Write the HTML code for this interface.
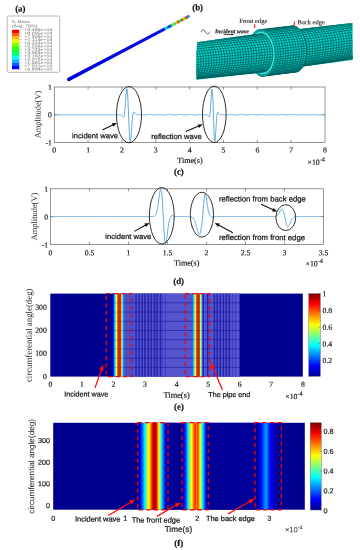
<!DOCTYPE html>
<html><head><meta charset="utf-8"><title>Figure</title>
<style>html,body{margin:0;padding:0;background:#fff}svg{display:block}</style></head>
<body>
<svg width="360" height="550" viewBox="0 0 360 550" text-rendering="geometricPrecision">
<defs>
<linearGradient id="jet" x1="0" y1="1" x2="0" y2="0">
<stop offset="0" stop-color="#00008f"/><stop offset="0.125" stop-color="#0000ff"/><stop offset="0.375" stop-color="#00ffff"/><stop offset="0.625" stop-color="#ffff00"/><stop offset="0.875" stop-color="#ff0000"/><stop offset="1" stop-color="#800000"/>
</linearGradient>
</defs>
<rect width="360" height="550" fill="#fff"/>
<text transform="rotate(0.03 15.2 11.4)" x="15.20" y="11.40" font-size="8.8" font-family="Liberation Serif, serif" text-anchor="start" fill="#111" font-weight="bold" stroke="#111" stroke-width="0.18">(a)</text>
<rect x="7.2" y="16" width="52.6" height="56.3" rx="1.2" fill="#fff" stroke="#9a9a9a" stroke-width="0.7"/>
<text transform="rotate(0.03 11.8 23.1)" x="11.80" y="23.10" font-size="3.9" font-family="Liberation Sans, sans-serif" text-anchor="start" fill="#6a6a6a" textLength="18.2" lengthAdjust="spacingAndGlyphs">S, Mises</text>
<text transform="rotate(0.03 11.8 27.3)" x="11.80" y="27.30" font-size="3.9" font-family="Liberation Sans, sans-serif" text-anchor="start" fill="#6a6a6a" textLength="25.7" lengthAdjust="spacingAndGlyphs">(Avg: 75%)</text>
<rect x="12" y="29.80" width="7.2" height="3.33" fill="#ff0000"/>
<rect x="12" y="33.08" width="7.2" height="3.33" fill="#ff5d00"/>
<rect x="12" y="36.37" width="7.2" height="3.33" fill="#ffb900"/>
<rect x="12" y="39.65" width="7.2" height="3.33" fill="#e8ff00"/>
<rect x="12" y="42.93" width="7.2" height="3.33" fill="#8bff00"/>
<rect x="12" y="46.22" width="7.2" height="3.33" fill="#2eff00"/>
<rect x="12" y="49.50" width="7.2" height="3.33" fill="#00ff2e"/>
<rect x="12" y="52.78" width="7.2" height="3.33" fill="#00ff8b"/>
<rect x="12" y="56.07" width="7.2" height="3.33" fill="#00ffe8"/>
<rect x="12" y="59.35" width="7.2" height="3.33" fill="#00b9ff"/>
<rect x="12" y="62.63" width="7.2" height="3.33" fill="#005dff"/>
<rect x="12" y="65.92" width="7.2" height="3.33" fill="#0000ff"/>
<line x1="19.2" y1="29.80" x2="21.6" y2="29.80" stroke="#666" stroke-width="0.35"/>
<text transform="rotate(0.03 24 29.8)" x="24.2" y="31.10" font-size="3.9" font-family="Liberation Sans, sans-serif" fill="#6e6e6e" textLength="28.3" lengthAdjust="spacingAndGlyphs">+9.485e+04</text>
<line x1="19.2" y1="33.08" x2="21.6" y2="33.08" stroke="#666" stroke-width="0.35"/>
<text transform="rotate(0.03 24 33.1)" x="24.2" y="34.38" font-size="3.9" font-family="Liberation Sans, sans-serif" fill="#6e6e6e" textLength="28.3" lengthAdjust="spacingAndGlyphs">+8.695e+04</text>
<line x1="19.2" y1="36.37" x2="21.6" y2="36.37" stroke="#666" stroke-width="0.35"/>
<text transform="rotate(0.03 24 36.4)" x="24.2" y="37.67" font-size="3.9" font-family="Liberation Sans, sans-serif" fill="#6e6e6e" textLength="28.3" lengthAdjust="spacingAndGlyphs">+7.905e+04</text>
<line x1="19.2" y1="39.65" x2="21.6" y2="39.65" stroke="#666" stroke-width="0.35"/>
<text transform="rotate(0.03 24 39.7)" x="24.2" y="40.95" font-size="3.9" font-family="Liberation Sans, sans-serif" fill="#6e6e6e" textLength="28.3" lengthAdjust="spacingAndGlyphs">+7.114e+04</text>
<line x1="19.2" y1="42.93" x2="21.6" y2="42.93" stroke="#666" stroke-width="0.35"/>
<text transform="rotate(0.03 24 42.9)" x="24.2" y="44.23" font-size="3.9" font-family="Liberation Sans, sans-serif" fill="#6e6e6e" textLength="28.3" lengthAdjust="spacingAndGlyphs">+6.324e+04</text>
<line x1="19.2" y1="46.22" x2="21.6" y2="46.22" stroke="#666" stroke-width="0.35"/>
<text transform="rotate(0.03 24 46.2)" x="24.2" y="47.52" font-size="3.9" font-family="Liberation Sans, sans-serif" fill="#6e6e6e" textLength="28.3" lengthAdjust="spacingAndGlyphs">+5.533e+04</text>
<line x1="19.2" y1="49.50" x2="21.6" y2="49.50" stroke="#666" stroke-width="0.35"/>
<text transform="rotate(0.03 24 49.5)" x="24.2" y="50.80" font-size="3.9" font-family="Liberation Sans, sans-serif" fill="#6e6e6e" textLength="28.3" lengthAdjust="spacingAndGlyphs">+4.743e+04</text>
<line x1="19.2" y1="52.78" x2="21.6" y2="52.78" stroke="#666" stroke-width="0.35"/>
<text transform="rotate(0.03 24 52.8)" x="24.2" y="54.08" font-size="3.9" font-family="Liberation Sans, sans-serif" fill="#6e6e6e" textLength="28.3" lengthAdjust="spacingAndGlyphs">+3.953e+04</text>
<line x1="19.2" y1="56.07" x2="21.6" y2="56.07" stroke="#666" stroke-width="0.35"/>
<text transform="rotate(0.03 24 56.1)" x="24.2" y="57.37" font-size="3.9" font-family="Liberation Sans, sans-serif" fill="#6e6e6e" textLength="28.3" lengthAdjust="spacingAndGlyphs">+3.162e+04</text>
<line x1="19.2" y1="59.35" x2="21.6" y2="59.35" stroke="#666" stroke-width="0.35"/>
<text transform="rotate(0.03 24 59.4)" x="24.2" y="60.65" font-size="3.9" font-family="Liberation Sans, sans-serif" fill="#6e6e6e" textLength="28.3" lengthAdjust="spacingAndGlyphs">+2.372e+04</text>
<line x1="19.2" y1="62.63" x2="21.6" y2="62.63" stroke="#666" stroke-width="0.35"/>
<text transform="rotate(0.03 24 62.6)" x="24.2" y="63.93" font-size="3.9" font-family="Liberation Sans, sans-serif" fill="#6e6e6e" textLength="28.3" lengthAdjust="spacingAndGlyphs">+1.581e+04</text>
<line x1="19.2" y1="65.92" x2="21.6" y2="65.92" stroke="#666" stroke-width="0.35"/>
<text transform="rotate(0.03 24 65.9)" x="24.2" y="67.22" font-size="3.9" font-family="Liberation Sans, sans-serif" fill="#6e6e6e" textLength="28.3" lengthAdjust="spacingAndGlyphs">+7.911e+03</text>
<line x1="19.2" y1="69.20" x2="21.6" y2="69.20" stroke="#666" stroke-width="0.35"/>
<text transform="rotate(0.03 24 69.2)" x="24.2" y="70.50" font-size="3.9" font-family="Liberation Sans, sans-serif" fill="#6e6e6e" textLength="28.3" lengthAdjust="spacingAndGlyphs">+6.894e+00</text>
<linearGradient id="rod" gradientUnits="userSpaceOnUse" x1="67.5" y1="80" x2="189" y2="16">
<stop offset="0" stop-color="#0000d8"/><stop offset="0.795" stop-color="#0010e8"/>
<stop offset="0.805" stop-color="#00d0e0"/><stop offset="0.822" stop-color="#00b0ff"/><stop offset="0.832" stop-color="#0030ff"/>
<stop offset="0.848" stop-color="#0050ff"/><stop offset="0.858" stop-color="#30e060"/><stop offset="0.872" stop-color="#80f000"/>
<stop offset="0.885" stop-color="#20d0a0"/><stop offset="0.895" stop-color="#f0e000"/><stop offset="0.908" stop-color="#ff2000"/>
<stop offset="0.920" stop-color="#40e020"/><stop offset="0.932" stop-color="#20d080"/><stop offset="0.944" stop-color="#ff3000"/>
<stop offset="0.956" stop-color="#f0d000"/><stop offset="0.966" stop-color="#30e040"/><stop offset="0.978" stop-color="#ff2000"/>
<stop offset="0.990" stop-color="#20a0e0"/><stop offset="1" stop-color="#2060ff"/>
</linearGradient>
<path d="M69.62,80.95 L189.05,17.64 A1.40,1.40 0 0 0 187.75,15.16 L67.98,77.85 A1.75,1.75 0 0 0 69.62,80.95 Z" fill="url(#rod)"/>
<text transform="rotate(0.03 192.3 10.2)" x="192.30" y="10.20" font-size="8.8" font-family="Liberation Serif, serif" text-anchor="start" fill="#111" font-weight="bold" stroke="#111" stroke-width="0.18">(b)</text>
<linearGradient id="pg" gradientUnits="userSpaceOnUse" x1="270" y1="25" x2="276" y2="78">
<stop offset="0" stop-color="#00c6be"/><stop offset="0.3" stop-color="#00e0d2"/><stop offset="0.65" stop-color="#00ccc2"/><stop offset="1" stop-color="#00a6a4"/></linearGradient>
<clipPath id="cl"><path d="M197.2,42.2 L260.44,33.45 A11.3,19.5 -4.0 0 1 263.16,72.35 L196.7,79.8 Q195.2,61 197.2,42.2 Z"/></clipPath>
<clipPath id="cc"><path d="M291.96,25.56 A13.30,23.50 -4.0 0 1 295.24,72.44 L263.45,76.54 A13.60,23.70 -4.0 0 1 260.15,29.26 Z"/></clipPath>
<clipPath id="cr"><path d="M292.88,29.85 L352.4,23.1 L352.7,60 L295.52,67.55 Z"/></clipPath>
<path d="M292.88,29.85 L352.4,23.1 L352.7,60 L295.52,67.55 Z" fill="url(#pg)"/>
<g clip-path="url(#cr)" fill="none" stroke="#005a5a" stroke-width="0.7">
<path d="M290.22,30.22 A10.51,18.92 -4.0 0 1 292.86,67.97"/>
<path d="M292.88,29.85 A10.50,18.90 -4.0 0 1 295.52,67.55"/>
<path d="M295.54,29.47 A10.49,18.88 -4.0 0 1 298.17,67.14"/>
<path d="M298.20,29.10 A10.49,18.86 -4.0 0 1 300.83,66.72"/>
<path d="M300.85,28.73 A10.48,18.83 -4.0 0 1 303.48,66.30"/>
<path d="M303.51,28.36 A10.48,18.81 -4.0 0 1 306.13,65.89"/>
<path d="M306.17,27.98 A10.47,18.79 -4.0 0 1 308.79,65.47"/>
<path d="M308.82,27.61 A10.47,18.77 -4.0 0 1 311.44,65.05"/>
<path d="M311.48,27.24 A10.46,18.74 -4.0 0 1 314.10,64.64"/>
<path d="M314.14,26.87 A10.46,18.72 -4.0 0 1 316.75,64.22"/>
<path d="M316.80,26.50 A10.45,18.70 -4.0 0 1 319.40,63.80"/>
<path d="M319.45,26.12 A10.44,18.68 -4.0 0 1 322.06,63.39"/>
<path d="M322.11,25.75 A10.44,18.66 -4.0 0 1 324.71,62.97"/>
<path d="M324.77,25.38 A10.43,18.63 -4.0 0 1 327.37,62.55"/>
<path d="M327.42,25.01 A10.43,18.61 -4.0 0 1 330.02,62.14"/>
<path d="M330.08,24.63 A10.42,18.59 -4.0 0 1 332.67,61.72"/>
<path d="M332.74,24.26 A10.42,18.57 -4.0 0 1 335.33,61.30"/>
<path d="M335.40,23.89 A10.41,18.54 -4.0 0 1 337.98,60.89"/>
<path d="M338.05,23.52 A10.41,18.52 -4.0 0 1 340.64,60.47"/>
<path d="M340.71,23.15 A10.40,18.50 -4.0 0 1 343.29,60.05"/>
<path d="M343.37,22.77 A10.39,18.48 -4.0 0 1 345.94,59.64"/>
<path d="M346.02,22.40 A10.39,18.46 -4.0 0 1 348.60,59.22"/>
<path d="M348.68,22.03 A10.38,18.43 -4.0 0 1 351.25,58.81"/>
<path d="M351.34,21.66 A10.38,18.41 -4.0 0 1 353.91,58.39"/>
<path d="M354.00,21.28 A10.37,18.39 -4.0 0 1 356.56,57.97"/>
<line x1="289.79" y1="30.64" x2="356.73" y2="21.25"/>
<line x1="291.47" y1="31.25" x2="358.38" y2="21.84"/>
<line x1="293.08" y1="32.31" x2="359.97" y2="22.87"/>
<line x1="294.59" y1="33.79" x2="361.46" y2="24.30"/>
<line x1="295.96" y1="35.63" x2="362.81" y2="26.09"/>
<line x1="297.16" y1="37.78" x2="363.99" y2="28.17"/>
<line x1="298.16" y1="40.17" x2="364.97" y2="30.49"/>
<line x1="298.94" y1="42.72" x2="365.74" y2="32.96"/>
<line x1="299.51" y1="45.36" x2="366.30" y2="35.53"/>
<line x1="299.85" y1="48.03" x2="366.64" y2="38.12"/>
<line x1="299.99" y1="50.68" x2="366.76" y2="40.69"/>
<line x1="299.91" y1="53.23" x2="366.69" y2="43.17"/>
<line x1="299.66" y1="55.66" x2="366.43" y2="45.53"/>
<line x1="299.23" y1="57.93" x2="366.01" y2="47.72"/>
<line x1="298.65" y1="60.00" x2="365.44" y2="49.73"/>
<line x1="297.95" y1="61.86" x2="364.74" y2="51.54"/>
<line x1="297.13" y1="63.49" x2="363.93" y2="53.13"/>
<line x1="296.21" y1="64.89" x2="363.02" y2="54.49"/>
<line x1="295.22" y1="66.05" x2="362.04" y2="55.62"/>
<line x1="294.16" y1="66.98" x2="361.00" y2="56.51"/>
<line x1="293.06" y1="67.66" x2="359.91" y2="57.18"/>
<line x1="291.91" y1="68.10" x2="358.78" y2="57.61"/>
</g>
<path d="M291.96,25.56 A13.30,23.50 -4.0 0 1 295.24,72.44 L263.45,76.54 A13.60,23.70 -4.0 0 1 260.15,29.26 Z" fill="url(#pg)"/>
<g clip-path="url(#cc)" fill="none" stroke="#005a5a" stroke-width="0.7">
<path d="M244.24,31.11 A13.75,23.80 -4.0 0 1 247.56,78.59"/>
<path d="M246.89,30.80 A13.72,23.78 -4.0 0 1 250.21,78.25"/>
<path d="M249.54,30.49 A13.70,23.77 -4.0 0 1 252.86,77.91"/>
<path d="M252.19,30.18 A13.67,23.75 -4.0 0 1 255.51,77.57"/>
<path d="M254.84,29.87 A13.65,23.73 -4.0 0 1 258.16,77.23"/>
<path d="M257.50,29.57 A13.62,23.72 -4.0 0 1 260.80,76.88"/>
<path d="M260.15,29.26 A13.60,23.70 -4.0 0 1 263.45,76.54"/>
<path d="M262.80,28.95 A13.57,23.68 -4.0 0 1 266.10,76.20"/>
<path d="M265.45,28.64 A13.55,23.67 -4.0 0 1 268.75,75.86"/>
<path d="M268.10,28.33 A13.53,23.65 -4.0 0 1 271.40,75.52"/>
<path d="M270.75,28.02 A13.50,23.63 -4.0 0 1 274.05,75.18"/>
<path d="M273.40,27.72 A13.47,23.62 -4.0 0 1 276.70,74.83"/>
<path d="M276.05,27.41 A13.45,23.60 -4.0 0 1 279.35,74.49"/>
<path d="M278.70,27.10 A13.43,23.58 -4.0 0 1 282.00,74.15"/>
<path d="M281.36,26.79 A13.40,23.57 -4.0 0 1 284.64,73.81"/>
<path d="M284.01,26.48 A13.38,23.55 -4.0 0 1 287.29,73.47"/>
<path d="M286.66,26.17 A13.35,23.53 -4.0 0 1 289.94,73.13"/>
<path d="M289.31,25.87 A13.33,23.52 -4.0 0 1 292.59,72.78"/>
<path d="M291.96,25.56 A13.30,23.50 -4.0 0 1 295.24,72.44"/>
<path d="M294.61,25.25 A13.28,23.48 -4.0 0 1 297.89,72.10"/>
<line x1="245.99" y1="31.18" x2="296.83" y2="25.26"/>
<line x1="247.74" y1="31.63" x2="298.52" y2="25.71"/>
<line x1="249.46" y1="32.45" x2="300.18" y2="26.52"/>
<line x1="251.10" y1="33.62" x2="301.77" y2="27.68"/>
<line x1="252.66" y1="35.12" x2="303.27" y2="29.16"/>
<line x1="254.10" y1="36.91" x2="304.67" y2="30.93"/>
<line x1="255.40" y1="38.95" x2="305.92" y2="32.94"/>
<line x1="256.54" y1="41.21" x2="307.03" y2="35.17"/>
<line x1="257.52" y1="43.63" x2="307.98" y2="37.56"/>
<line x1="258.32" y1="46.18" x2="308.75" y2="40.07"/>
<line x1="258.94" y1="48.80" x2="309.35" y2="42.66"/>
<line x1="259.37" y1="51.46" x2="309.78" y2="45.29"/>
<line x1="259.63" y1="54.12" x2="310.03" y2="47.91"/>
<line x1="259.72" y1="56.74" x2="310.12" y2="50.50"/>
<line x1="259.64" y1="59.29" x2="310.04" y2="53.01"/>
<line x1="259.40" y1="61.74" x2="309.82" y2="55.43"/>
<line x1="259.02" y1="64.07" x2="309.46" y2="57.73"/>
<line x1="258.51" y1="66.26" x2="308.97" y2="59.89"/>
<line x1="257.88" y1="68.29" x2="308.36" y2="61.89"/>
<line x1="257.15" y1="70.16" x2="307.66" y2="63.73"/>
<line x1="256.32" y1="71.84" x2="306.86" y2="65.39"/>
<line x1="255.41" y1="73.35" x2="305.98" y2="66.87"/>
<line x1="254.42" y1="74.66" x2="305.04" y2="68.17"/>
<line x1="253.38" y1="75.79" x2="304.03" y2="69.28"/>
<line x1="252.29" y1="76.73" x2="302.98" y2="70.20"/>
<line x1="251.15" y1="77.48" x2="301.88" y2="70.94"/>
<line x1="249.98" y1="78.04" x2="300.75" y2="71.49"/>
<line x1="248.78" y1="78.41" x2="299.59" y2="71.86"/>
</g>
<path d="M260.15,29.26 A13.60,23.70 -4.0 0 1 263.45,76.54 A13.60,23.70 -4.0 0 1 260.15,29.26 Z" fill="#14bcb6"/>
<clipPath id="cf"><path d="M260.15,29.26 A13.60,23.70 -4.0 0 1 263.45,76.54 A13.60,23.70 -4.0 0 1 260.15,29.26 Z"/></clipPath>
<g clip-path="url(#cf)" stroke="#005a5a" stroke-width="0.6" fill="none">
<line x1="273.07" y1="52.11" x2="275.37" y2="51.95"/>
<line x1="273.14" y1="55.50" x2="275.45" y2="56.07"/>
<line x1="272.86" y1="58.81" x2="275.11" y2="60.09"/>
<line x1="272.24" y1="61.94" x2="274.38" y2="63.90"/>
<line x1="271.31" y1="64.80" x2="273.26" y2="67.37"/>
<line x1="270.09" y1="67.29" x2="271.79" y2="70.40"/>
<line x1="268.61" y1="69.35" x2="270.02" y2="72.90"/>
<line x1="266.93" y1="70.91" x2="267.99" y2="74.79"/>
<line x1="265.10" y1="71.92" x2="265.78" y2="76.02"/>
<line x1="263.16" y1="72.35" x2="263.45" y2="76.54"/>
<line x1="261.18" y1="72.19" x2="261.07" y2="76.35"/>
<line x1="259.22" y1="71.45" x2="258.71" y2="75.44"/>
<line x1="257.34" y1="70.14" x2="256.45" y2="73.85"/>
<line x1="255.60" y1="68.31" x2="254.35" y2="71.62"/>
<line x1="254.04" y1="66.01" x2="252.47" y2="68.82"/>
<line x1="252.72" y1="63.31" x2="250.88" y2="65.54"/>
<line x1="251.67" y1="60.29" x2="249.62" y2="61.88"/>
<line x1="250.93" y1="57.05" x2="248.73" y2="57.94"/>
<line x1="250.53" y1="53.69" x2="248.23" y2="53.85"/>
<line x1="250.46" y1="50.30" x2="248.15" y2="49.73"/>
<line x1="250.74" y1="46.99" x2="248.49" y2="45.71"/>
<line x1="251.36" y1="43.86" x2="249.22" y2="41.90"/>
<line x1="252.29" y1="41.00" x2="250.34" y2="38.43"/>
<line x1="253.51" y1="38.51" x2="251.81" y2="35.40"/>
<line x1="254.99" y1="36.45" x2="253.58" y2="32.90"/>
<line x1="256.67" y1="34.89" x2="255.61" y2="31.01"/>
<line x1="258.50" y1="33.88" x2="257.82" y2="29.78"/>
<line x1="260.44" y1="33.45" x2="260.15" y2="29.26"/>
<line x1="262.42" y1="33.61" x2="262.53" y2="29.45"/>
<line x1="264.38" y1="34.35" x2="264.89" y2="30.36"/>
<line x1="266.26" y1="35.66" x2="267.15" y2="31.95"/>
<line x1="268.00" y1="37.49" x2="269.25" y2="34.18"/>
<line x1="269.56" y1="39.79" x2="271.13" y2="36.98"/>
<line x1="270.88" y1="42.49" x2="272.72" y2="40.26"/>
<line x1="271.93" y1="45.51" x2="273.98" y2="43.92"/>
<line x1="272.67" y1="48.75" x2="274.87" y2="47.86"/>
</g>
<path d="M260.38,32.55 A12.05,20.40 -4.0 0 1 263.22,73.25 A12.05,20.40 -4.0 0 1 260.38,32.55 Z" fill="none" stroke="#3ce6da" stroke-width="1.5"/>
<path d="M260.15,29.26 A13.60,23.70 -4.0 0 1 263.45,76.54 A13.60,23.70 -4.0 0 1 260.15,29.26 Z" fill="none" stroke="#007a78" stroke-width="0.5"/>
<path d="M197.2,42.2 L260.44,33.45 A11.3,19.5 -4.0 0 1 263.16,72.35 L196.7,79.8 Q195.2,61 197.2,42.2 Z" fill="url(#pg)"/>
<g clip-path="url(#cl)" fill="none" stroke="#005a5a" stroke-width="0.7">
<path d="M183.68,42.15 A10.60,18.90 -4.0 0 1 186.32,79.85"/>
<path d="M186.33,41.85 A10.62,18.92 -4.0 0 1 188.97,79.60"/>
<path d="M188.98,41.55 A10.65,18.94 -4.0 0 1 191.62,79.34"/>
<path d="M191.62,41.25 A10.67,18.96 -4.0 0 1 194.27,79.08"/>
<path d="M194.27,40.95 A10.70,18.98 -4.0 0 1 196.92,78.82"/>
<path d="M196.92,40.65 A10.72,19.00 -4.0 0 1 199.57,78.56"/>
<path d="M199.56,40.35 A10.74,19.02 -4.0 0 1 202.22,78.30"/>
<path d="M202.21,40.05 A10.77,19.04 -4.0 0 1 204.87,78.04"/>
<path d="M204.86,39.75 A10.79,19.07 -4.0 0 1 207.52,77.78"/>
<path d="M207.50,39.45 A10.82,19.09 -4.0 0 1 210.17,77.53"/>
<path d="M210.15,39.15 A10.84,19.11 -4.0 0 1 212.82,77.27"/>
<path d="M212.80,38.85 A10.87,19.13 -4.0 0 1 215.47,77.01"/>
<path d="M215.44,38.55 A10.89,19.15 -4.0 0 1 218.12,76.75"/>
<path d="M218.09,38.25 A10.91,19.17 -4.0 0 1 220.76,76.49"/>
<path d="M220.74,37.95 A10.94,19.19 -4.0 0 1 223.41,76.23"/>
<path d="M223.38,37.65 A10.96,19.21 -4.0 0 1 226.06,75.97"/>
<path d="M226.03,37.35 A10.99,19.23 -4.0 0 1 228.71,75.72"/>
<path d="M228.68,37.05 A11.01,19.25 -4.0 0 1 231.36,75.46"/>
<path d="M231.32,36.75 A11.03,19.27 -4.0 0 1 234.01,75.20"/>
<path d="M233.97,36.45 A11.06,19.29 -4.0 0 1 236.66,74.94"/>
<path d="M236.62,36.15 A11.08,19.31 -4.0 0 1 239.31,74.68"/>
<path d="M239.27,35.85 A11.11,19.33 -4.0 0 1 241.96,74.42"/>
<path d="M241.91,35.55 A11.13,19.36 -4.0 0 1 244.61,74.16"/>
<path d="M244.56,35.25 A11.16,19.38 -4.0 0 1 247.26,73.90"/>
<path d="M247.21,34.95 A11.18,19.40 -4.0 0 1 249.91,73.65"/>
<path d="M249.85,34.65 A11.20,19.42 -4.0 0 1 252.56,73.39"/>
<path d="M252.50,34.35 A11.23,19.44 -4.0 0 1 255.21,73.13"/>
<path d="M255.15,34.05 A11.25,19.46 -4.0 0 1 257.86,72.87"/>
<path d="M257.79,33.75 A11.28,19.48 -4.0 0 1 260.51,72.61"/>
<path d="M260.44,33.45 A11.30,19.50 -4.0 0 1 263.16,72.35"/>
<path d="M263.09,33.15 A11.32,19.52 -4.0 0 1 265.81,72.09"/>
<line x1="185.39" y1="42.27" x2="266.10" y2="33.14"/>
<line x1="187.08" y1="42.87" x2="267.91" y2="33.75"/>
<line x1="188.71" y1="43.93" x2="269.65" y2="34.84"/>
<line x1="190.23" y1="45.40" x2="271.27" y2="36.36"/>
<line x1="191.61" y1="47.24" x2="272.74" y2="38.26"/>
<line x1="192.81" y1="49.39" x2="274.02" y2="40.47"/>
<line x1="193.82" y1="51.77" x2="275.09" y2="42.93"/>
<line x1="194.61" y1="54.31" x2="275.93" y2="45.56"/>
<line x1="195.18" y1="56.95" x2="276.53" y2="48.29"/>
<line x1="195.52" y1="59.62" x2="276.89" y2="51.04"/>
<line x1="195.65" y1="62.26" x2="277.03" y2="53.77"/>
<line x1="195.58" y1="64.81" x2="276.94" y2="56.40"/>
<line x1="195.32" y1="67.23" x2="276.66" y2="58.91"/>
<line x1="194.89" y1="69.49" x2="276.19" y2="61.25"/>
<line x1="194.31" y1="71.56" x2="275.56" y2="63.38"/>
<line x1="193.59" y1="73.41" x2="274.79" y2="65.30"/>
<line x1="192.76" y1="75.05" x2="273.90" y2="66.99"/>
<line x1="191.84" y1="76.44" x2="272.91" y2="68.44"/>
<line x1="190.84" y1="77.60" x2="271.84" y2="69.64"/>
<line x1="189.77" y1="78.53" x2="270.70" y2="70.60"/>
<line x1="188.66" y1="79.21" x2="269.50" y2="71.30"/>
<line x1="187.50" y1="79.65" x2="268.27" y2="71.76"/>
</g>
<path d="M291.96,25.56 A13.30,23.50 -4.0 0 1 295.24,72.44" fill="none" stroke="#005857" stroke-width="0.7"/>
<path d="M260.44,33.45 A11.30,19.50 -4.0 0 1 263.16,72.35" fill="none" stroke="#006a69" stroke-width="0.5"/>
<text transform="rotate(0.03 239.3 23.1)" x="239.30" y="23.10" font-size="6.5" font-family="Liberation Serif, serif" text-anchor="start" fill="#1a1a1a" stroke="#1a1a1a" stroke-width="0.12">Front edge</text>
<text transform="rotate(0.03 297.6 24.3)" x="297.60" y="24.30" font-size="6.5" font-family="Liberation Serif, serif" text-anchor="start" fill="#1a1a1a" stroke="#1a1a1a" stroke-width="0.12">Back edge</text>
<line x1="254.70" y1="23.80" x2="254.70" y2="27.20" stroke="#ff2020" stroke-width="0.9"/>
<polygon points="254.70,28.40 253.60,26.20 255.80,26.20" fill="#ff2020"/>
<line x1="294.40" y1="21.00" x2="294.40" y2="24.60" stroke="#ff2020" stroke-width="0.9"/>
<polygon points="294.40,25.80 293.30,23.60 295.50,23.60" fill="#ff2020"/>
<text transform="rotate(0.03 215.0 33.2)" x="215.00" y="33.20" font-size="5.9" font-family="Liberation Serif, serif" text-anchor="start" fill="#111" font-weight="bold" font-style="italic" stroke="#111" stroke-width="0.15">Incident wave</text>
<path d="M201,32.2 C202.2,29.2 204,29.2 205.4,31.9 C206.8,34.6 208.6,34.6 209.8,31.6" fill="none" stroke="#222" stroke-width="0.7"/>
<line x1="223.60" y1="34.50" x2="232.40" y2="34.50" stroke="#111" stroke-width="0.7"/>
<polygon points="234.00,34.50 231.40,35.60 231.40,33.40" fill="#111"/>
<rect x="54.25" y="87.0" width="270.75" height="55.5" fill="#fff" stroke="#4d4d4d" stroke-width="0.6"/>
<line x1="88.09" y1="142.5" x2="88.09" y2="139.9" stroke="#4d4d4d" stroke-width="0.6"/>
<line x1="88.09" y1="87.0" x2="88.09" y2="89.6" stroke="#4d4d4d" stroke-width="0.6"/>
<line x1="121.94" y1="142.5" x2="121.94" y2="139.9" stroke="#4d4d4d" stroke-width="0.6"/>
<line x1="121.94" y1="87.0" x2="121.94" y2="89.6" stroke="#4d4d4d" stroke-width="0.6"/>
<line x1="155.78" y1="142.5" x2="155.78" y2="139.9" stroke="#4d4d4d" stroke-width="0.6"/>
<line x1="155.78" y1="87.0" x2="155.78" y2="89.6" stroke="#4d4d4d" stroke-width="0.6"/>
<line x1="189.62" y1="142.5" x2="189.62" y2="139.9" stroke="#4d4d4d" stroke-width="0.6"/>
<line x1="189.62" y1="87.0" x2="189.62" y2="89.6" stroke="#4d4d4d" stroke-width="0.6"/>
<line x1="223.47" y1="142.5" x2="223.47" y2="139.9" stroke="#4d4d4d" stroke-width="0.6"/>
<line x1="223.47" y1="87.0" x2="223.47" y2="89.6" stroke="#4d4d4d" stroke-width="0.6"/>
<line x1="257.31" y1="142.5" x2="257.31" y2="139.9" stroke="#4d4d4d" stroke-width="0.6"/>
<line x1="257.31" y1="87.0" x2="257.31" y2="89.6" stroke="#4d4d4d" stroke-width="0.6"/>
<line x1="291.16" y1="142.5" x2="291.16" y2="139.9" stroke="#4d4d4d" stroke-width="0.6"/>
<line x1="291.16" y1="87.0" x2="291.16" y2="89.6" stroke="#4d4d4d" stroke-width="0.6"/>
<line x1="54.25" y1="114.75" x2="56.85" y2="114.75" stroke="#4d4d4d" stroke-width="0.6"/>
<line x1="325.0" y1="114.75" x2="322.4" y2="114.75" stroke="#4d4d4d" stroke-width="0.6"/>
<polyline points="54.25,114.75 54.44,114.75 54.64,114.75 54.83,114.75 55.02,114.75 55.22,114.75 55.41,114.75 55.60,114.75 55.80,114.75 55.99,114.75 56.19,114.75 56.38,114.75 56.57,114.75 56.77,114.75 56.96,114.75 57.15,114.75 57.35,114.75 57.54,114.75 57.73,114.75 57.93,114.75 58.12,114.75 58.31,114.75 58.51,114.75 58.70,114.75 58.89,114.75 59.09,114.75 59.28,114.75 59.48,114.75 59.67,114.75 59.86,114.75 60.06,114.75 60.25,114.75 60.44,114.75 60.64,114.75 60.83,114.75 61.02,114.75 61.22,114.75 61.41,114.75 61.60,114.75 61.80,114.75 61.99,114.75 62.18,114.75 62.38,114.75 62.57,114.75 62.77,114.75 62.96,114.75 63.15,114.75 63.35,114.75 63.54,114.75 63.73,114.75 63.93,114.75 64.12,114.75 64.31,114.75 64.51,114.75 64.70,114.75 64.89,114.75 65.09,114.75 65.28,114.75 65.47,114.75 65.67,114.75 65.86,114.75 66.06,114.75 66.25,114.75 66.44,114.75 66.64,114.75 66.83,114.75 67.02,114.75 67.22,114.75 67.41,114.75 67.60,114.75 67.80,114.75 67.99,114.75 68.18,114.75 68.38,114.75 68.57,114.75 68.76,114.75 68.96,114.75 69.15,114.75 69.35,114.75 69.54,114.75 69.73,114.75 69.93,114.75 70.12,114.75 70.31,114.75 70.51,114.75 70.70,114.75 70.89,114.75 71.09,114.75 71.28,114.75 71.47,114.75 71.67,114.75 71.86,114.75 72.05,114.75 72.25,114.75 72.44,114.75 72.64,114.75 72.83,114.75 73.02,114.75 73.22,114.75 73.41,114.75 73.60,114.75 73.80,114.75 73.99,114.75 74.18,114.75 74.38,114.75 74.57,114.75 74.76,114.75 74.96,114.75 75.15,114.75 75.34,114.75 75.54,114.75 75.73,114.75 75.93,114.75 76.12,114.75 76.31,114.75 76.51,114.75 76.70,114.75 76.89,114.75 77.09,114.75 77.28,114.75 77.47,114.75 77.67,114.75 77.86,114.75 78.05,114.75 78.25,114.75 78.44,114.75 78.63,114.75 78.83,114.75 79.02,114.75 79.22,114.75 79.41,114.75 79.60,114.75 79.80,114.75 79.99,114.75 80.18,114.75 80.38,114.75 80.57,114.75 80.76,114.75 80.96,114.75 81.15,114.75 81.34,114.75 81.54,114.75 81.73,114.75 81.92,114.75 82.12,114.75 82.31,114.75 82.51,114.75 82.70,114.75 82.89,114.75 83.09,114.75 83.28,114.75 83.47,114.75 83.67,114.75 83.86,114.75 84.05,114.75 84.25,114.75 84.44,114.75 84.63,114.75 84.83,114.75 85.02,114.75 85.21,114.75 85.41,114.75 85.60,114.75 85.80,114.75 85.99,114.75 86.18,114.75 86.38,114.75 86.57,114.75 86.76,114.75 86.96,114.75 87.15,114.75 87.34,114.75 87.54,114.75 87.73,114.75 87.92,114.75 88.12,114.75 88.31,114.75 88.51,114.75 88.70,114.75 88.89,114.75 89.09,114.75 89.28,114.75 89.47,114.75 89.67,114.75 89.86,114.75 90.05,114.75 90.25,114.75 90.44,114.75 90.63,114.75 90.83,114.75 91.02,114.75 91.21,114.75 91.41,114.75 91.60,114.75 91.80,114.75 91.99,114.75 92.18,114.75 92.38,114.75 92.57,114.75 92.76,114.75 92.96,114.75 93.15,114.75 93.34,114.75 93.54,114.75 93.73,114.75 93.92,114.75 94.12,114.75 94.31,114.75 94.50,114.75 94.70,114.75 94.89,114.75 95.09,114.75 95.28,114.75 95.47,114.75 95.67,114.75 95.86,114.75 96.05,114.75 96.25,114.75 96.44,114.75 96.63,114.75 96.83,114.75 97.02,114.75 97.21,114.75 97.41,114.75 97.60,114.75 97.79,114.75 97.99,114.75 98.18,114.75 98.38,114.75 98.57,114.75 98.76,114.75 98.96,114.75 99.15,114.75 99.34,114.75 99.54,114.75 99.73,114.75 99.92,114.75 100.12,114.75 100.31,114.75 100.50,114.75 100.70,114.75 100.89,114.75 101.08,114.75 101.28,114.75 101.47,114.75 101.67,114.75 101.86,114.75 102.05,114.75 102.25,114.75 102.44,114.75 102.63,114.75 102.83,114.75 103.02,114.75 103.21,114.75 103.41,114.75 103.60,114.75 103.79,114.75 103.99,114.75 104.18,114.75 104.37,114.75 104.57,114.75 104.76,114.75 104.96,114.75 105.15,114.75 105.34,114.75 105.54,114.75 105.73,114.75 105.92,114.75 106.12,114.75 106.31,114.75 106.50,114.75 106.70,114.75 106.89,114.75 107.08,114.75 107.28,114.75 107.47,114.75 107.66,114.75 107.86,114.75 108.05,114.75 108.25,114.75 108.44,114.75 108.63,114.75 108.83,114.75 109.02,114.75 109.21,114.75 109.41,114.75 109.60,114.75 109.79,114.75 109.99,114.75 110.18,114.75 110.37,114.75 110.57,114.75 110.76,114.75 110.95,114.75 111.15,114.75 111.34,114.75 111.54,114.75 111.73,114.75 111.92,114.75 112.12,114.75 112.31,114.75 112.50,114.75 112.70,114.75 112.89,114.75 113.08,114.75 113.28,114.75 113.47,114.75 113.66,114.75 113.86,114.75 114.05,114.75 114.24,114.75 114.44,114.75 114.63,114.75 114.83,114.75 115.02,114.75 115.21,114.75 115.41,114.75 115.60,114.75 115.79,114.75 115.99,114.75 116.18,114.75 116.37,114.75 116.57,114.75 116.76,114.75 116.95,114.75 117.15,114.75 117.34,114.75 117.53,114.75 117.73,114.75 117.92,114.75 118.12,114.74 118.31,114.74 118.50,114.74 118.70,114.74 118.89,114.74 119.08,114.73 119.28,114.73 119.47,114.73 119.66,114.74 119.86,114.74 120.05,114.75 120.24,114.77 120.44,114.80 120.63,114.84 120.82,114.90 121.02,114.98 121.21,115.09 121.41,115.22 121.60,115.38 121.79,115.56 121.99,115.78 122.18,116.02 122.37,116.27 122.57,116.53 122.76,116.77 122.95,116.98 123.15,117.12 123.34,117.16 123.53,117.07 123.73,116.80 123.92,116.33 124.11,115.61 124.31,114.61 124.50,113.31 124.70,111.70 124.89,109.80 125.08,107.61 125.28,105.20 125.47,102.61 125.66,99.95 125.86,97.31 126.05,94.81 126.24,92.58 126.44,90.76 126.63,89.45 126.82,88.78 127.02,88.83 127.21,89.66 127.40,91.31 127.60,93.76 127.79,96.96 127.99,100.82 128.18,105.22 128.37,110.00 128.57,114.98 128.76,119.98 128.95,124.81 129.15,129.28 129.34,133.24 129.53,136.55 129.73,139.11 129.92,140.86 130.11,141.78 130.31,141.90 130.50,141.26 130.69,139.96 130.89,138.10 131.08,135.80 131.28,133.21 131.47,130.45 131.66,127.64 131.86,124.91 132.05,122.33 132.24,119.99 132.44,117.94 132.63,116.20 132.82,114.79 133.02,113.70 133.21,112.91 133.40,112.38 133.60,112.09 133.79,111.99 133.98,112.03 134.18,112.19 134.37,112.42 134.57,112.70 134.76,112.99 134.95,113.28 135.15,113.55 135.34,113.80 135.53,114.02 135.73,114.20 135.92,114.36 136.11,114.48 136.31,114.57 136.50,114.64 136.69,114.69 136.89,114.73 137.08,114.75 137.27,114.59 137.47,114.57 137.66,114.55 137.86,114.53 138.05,114.51 138.24,114.49 138.44,114.48 138.63,114.47 138.82,114.46 139.02,114.46 139.21,114.46 139.40,114.47 139.60,114.48 139.79,114.50 139.98,114.52 140.18,114.54 140.37,114.57 140.56,114.60 140.76,114.63 140.95,114.67 141.15,114.70 141.34,114.73 141.53,114.77 141.73,114.81 141.92,114.84 142.11,114.87 142.31,114.90 142.50,114.93 142.69,114.96 142.89,114.98 143.08,115.00 143.27,115.02 143.47,115.03 143.66,115.04 143.85,115.05 144.05,115.05 144.24,115.05 144.44,115.04 144.63,115.03 144.82,115.01 145.02,114.99 145.21,114.97 145.40,114.94 145.60,114.91 145.79,114.88 145.98,114.85 146.18,114.82 146.37,114.78 146.56,114.75 146.76,114.71 146.95,114.68 147.14,114.64 147.34,114.61 147.53,114.58 147.73,114.55 147.92,114.53 148.11,114.51 148.31,114.49 148.50,114.47 148.69,114.46 148.89,114.45 149.08,114.45 149.27,114.45 149.47,114.46 149.66,114.47 149.85,114.48 150.05,114.50 150.24,114.52 150.43,114.54 150.63,114.57 150.82,114.60 151.02,114.63 151.21,114.67 151.40,114.70 151.60,114.73 151.79,114.77 151.98,114.81 152.18,114.84 152.37,114.87 152.56,114.90 152.76,114.93 152.95,114.96 153.14,114.98 153.34,115.00 153.53,115.02 153.72,115.03 153.92,115.04 154.11,115.05 154.31,115.05 154.50,115.04 154.69,115.04 154.89,115.03 155.08,115.01 155.27,114.99 155.47,114.97 155.66,114.94 155.85,114.91 156.05,114.88 156.24,114.85 156.43,114.82 156.63,114.78 156.82,114.75 157.02,114.71 157.21,114.68 157.40,114.64 157.60,114.61 157.79,114.58 157.98,114.55 158.18,114.53 158.37,114.51 158.56,114.49 158.76,114.47 158.95,114.46 159.14,114.45 159.34,114.45 159.53,114.45 159.72,114.46 159.92,114.47 160.11,114.48 160.31,114.50 160.50,114.52 160.69,114.54 160.89,114.57 161.08,114.60 161.27,114.63 161.47,114.67 161.66,114.70 161.85,114.74 162.05,114.77 162.24,114.81 162.43,114.84 162.63,114.87 162.82,114.90 163.01,114.93 163.21,114.96 163.40,114.98 163.60,115.00 163.79,115.02 163.98,115.03 164.18,115.04 164.37,115.05 164.56,115.05 164.76,115.04 164.95,115.04 165.14,115.03 165.34,115.01 165.53,114.99 165.72,114.97 165.92,114.94 166.11,114.91 166.30,114.88 166.50,114.85 166.69,114.82 166.89,114.78 167.08,114.75 167.27,114.71 167.47,114.68 167.66,114.64 167.85,114.61 168.05,114.58 168.24,114.55 168.43,114.53 168.63,114.51 168.82,114.49 169.01,114.47 169.21,114.46 169.40,114.45 169.59,114.45 169.79,114.45 169.98,114.46 170.18,114.47 170.37,114.48 170.56,114.50 170.76,114.52 170.95,114.54 171.14,114.57 171.34,114.60 171.53,114.63 171.72,114.67 171.92,114.70 172.11,114.74 172.30,114.77 172.50,114.81 172.69,114.84 172.88,114.87 173.08,114.90 173.27,114.93 173.47,114.96 173.66,114.98 173.85,115.00 174.05,115.02 174.24,115.03 174.43,115.04 174.63,115.05 174.82,115.05 175.01,115.04 175.21,115.04 175.40,115.03 175.59,115.01 175.79,114.99 175.98,114.97 176.17,114.94 176.37,114.91 176.56,114.88 176.76,114.85 176.95,114.82 177.14,114.78 177.34,114.75 177.53,114.71 177.72,114.68 177.92,114.64 178.11,114.61 178.30,114.58 178.50,114.55 178.69,114.53 178.88,114.51 179.08,114.49 179.27,114.47 179.46,114.46 179.66,114.45 179.85,114.45 180.05,114.45 180.24,114.46 180.43,114.47 180.63,114.48 180.82,114.50 181.01,114.52 181.21,114.54 181.40,114.57 181.59,114.60 181.79,114.63 181.98,114.67 182.17,114.70 182.37,114.74 182.56,114.77 182.75,114.81 182.95,114.84 183.14,114.87 183.34,114.90 183.53,114.93 183.72,114.96 183.92,114.98 184.11,115.00 184.30,115.02 184.50,115.03 184.69,115.04 184.88,115.05 185.08,115.05 185.27,115.04 185.46,115.04 185.66,115.03 185.85,115.01 186.04,114.99 186.24,114.97 186.43,114.94 186.63,114.91 186.82,114.88 187.01,114.85 187.21,114.82 187.40,114.78 187.59,114.75 187.79,114.71 187.98,114.68 188.17,114.64 188.37,114.61 188.56,114.58 188.75,114.55 188.95,114.53 189.14,114.51 189.33,114.49 189.53,114.47 189.72,114.46 189.92,114.45 190.11,114.45 190.30,114.45 190.50,114.46 190.69,114.47 190.88,114.48 191.08,114.50 191.27,114.52 191.46,114.54 191.66,114.57 191.85,114.60 192.04,114.63 192.24,114.67 192.43,114.70 192.62,114.74 192.82,114.77 193.01,114.81 193.21,114.84 193.40,114.87 193.59,114.90 193.79,114.93 193.98,114.96 194.17,114.98 194.37,115.00 194.56,115.02 194.75,115.03 194.95,115.04 195.14,115.05 195.33,115.05 195.53,115.04 195.72,115.04 195.91,115.03 196.11,115.01 196.30,114.99 196.50,114.97 196.69,114.94 196.88,114.91 197.08,114.88 197.27,114.85 197.46,114.82 197.66,114.78 197.85,114.75 198.04,114.71 198.24,114.68 198.43,114.64 198.62,114.61 198.82,114.58 199.01,114.55 199.20,114.53 199.40,114.51 199.59,114.49 199.79,114.47 199.98,114.46 200.17,114.45 200.37,114.45 200.56,114.45 200.75,114.46 200.95,114.47 201.14,114.48 201.33,114.50 201.53,114.52 201.72,114.54 201.91,114.57 202.11,114.60 202.30,114.63 202.49,114.67 202.69,114.70 202.88,114.74 203.08,114.77 203.27,114.81 203.46,114.84 203.66,114.87 203.85,114.90 204.04,114.93 204.24,114.96 204.43,114.98 204.62,115.00 204.82,115.01 205.01,114.74 205.20,114.74 205.40,114.74 205.59,114.73 205.78,114.73 205.98,114.74 206.17,114.75 206.37,114.76 206.56,114.79 206.75,114.84 206.95,114.91 207.14,115.01 207.33,115.14 207.53,115.31 207.72,115.52 207.91,115.77 208.11,116.05 208.30,116.34 208.49,116.62 208.69,116.87 208.88,117.02 209.07,117.04 209.27,116.87 209.46,116.43 209.66,115.66 209.85,114.53 210.04,112.97 210.24,111.00 210.43,108.62 210.62,105.89 210.82,102.91 211.01,99.81 211.20,96.78 211.40,94.00 211.59,91.69 211.78,90.05 211.98,89.28 212.17,89.53 212.36,90.88 212.56,93.35 212.75,96.89 212.95,101.36 213.14,106.56 213.33,112.23 213.53,118.07 213.72,123.77 213.91,129.02 214.11,133.56 214.30,137.17 214.49,139.70 214.69,141.09 214.88,141.36 215.07,140.57 215.27,138.89 215.46,136.49 215.65,133.59 215.85,130.41 216.04,127.15 216.24,124.00 216.43,121.10 216.62,118.57 216.82,116.46 217.01,114.80 217.20,113.58 217.40,112.76 217.59,112.30 217.78,112.11 217.98,112.14 218.17,112.33 218.36,112.61 218.56,112.93 218.75,113.27 218.94,113.58 219.14,113.87 219.33,114.11 219.53,114.30 219.72,114.45 219.91,114.57 220.11,114.65 220.30,114.70 220.49,114.74 220.69,114.76 220.88,114.77 221.07,114.77 221.27,114.77 221.46,114.77 221.65,114.76 221.85,114.44 222.04,114.47 222.23,114.50 222.43,114.53 222.62,114.57 222.82,114.61 223.01,114.65 223.20,114.69 223.40,114.73 223.59,114.78 223.78,114.82 223.98,114.86 224.17,114.90 224.36,114.94 224.56,114.98 224.75,115.01 224.94,115.04 225.14,115.06 225.33,115.08 225.53,115.10 225.72,115.11 225.91,115.11 226.11,115.11 226.30,115.11 226.49,115.10 226.69,115.08 226.88,115.06 227.07,115.04 227.27,115.01 227.46,114.98 227.65,114.94 227.85,114.91 228.04,114.87 228.23,114.83 228.43,114.79 228.62,114.74 228.82,114.70 229.01,114.66 229.20,114.62 229.40,114.59 229.59,114.55 229.78,114.52 229.98,114.49 230.17,114.47 230.36,114.45 230.56,114.43 230.75,114.42 230.94,114.41 231.14,114.41 231.33,114.41 231.52,114.42 231.72,114.43 231.91,114.45 232.11,114.47 232.30,114.49 232.49,114.52 232.69,114.55 232.88,114.58 233.07,114.62 233.27,114.66 233.46,114.70 233.65,114.74 233.85,114.77 234.04,114.81 234.23,114.85 234.43,114.89 234.62,114.92 234.81,114.95 235.01,114.98 235.20,115.01 235.40,115.03 235.59,115.04 235.78,115.06 235.98,115.07 236.17,115.07 236.36,115.07 236.56,115.06 236.75,115.06 236.94,115.04 237.14,115.03 237.33,115.00 237.52,114.98 237.72,114.95 237.91,114.92 238.10,114.89 238.30,114.85 238.49,114.82 238.69,114.78 238.88,114.74 239.07,114.71 239.27,114.67 239.46,114.64 239.65,114.61 239.85,114.57 240.04,114.55 240.23,114.52 240.43,114.50 240.62,114.48 240.81,114.47 241.01,114.46 241.20,114.45 241.39,114.45 241.59,114.45 241.78,114.46 241.98,114.47 242.17,114.48 242.36,114.50 242.56,114.52 242.75,114.55 242.94,114.57 243.14,114.60 243.33,114.64 243.52,114.67 243.72,114.70 243.91,114.74 244.10,114.77 244.30,114.81 244.49,114.84 244.68,114.87 244.88,114.90 245.07,114.93 245.27,114.95 245.46,114.98 245.65,114.99 245.85,115.01 246.04,115.02 246.23,115.03 246.43,115.03 246.62,115.03 246.81,115.03 247.01,115.02 247.20,115.01 247.39,114.99 247.59,114.97 247.78,114.95 247.97,114.93 248.17,114.90 248.36,114.87 248.56,114.84 248.75,114.81 248.94,114.78 249.14,114.75 249.33,114.71 249.52,114.68 249.72,114.65 249.91,114.62 250.10,114.59 250.30,114.57 250.49,114.55 250.68,114.53 250.88,114.51 251.07,114.50 251.26,114.49 251.46,114.48 251.65,114.48 251.85,114.49 252.04,114.49 252.23,114.50 252.43,114.51 252.62,114.53 252.81,114.55 253.01,114.57 253.20,114.59 253.39,114.62 253.59,114.65 253.78,114.68 253.97,114.71 254.17,114.74 254.36,114.77 254.55,114.80 254.75,114.83 254.94,114.86 255.14,114.88 255.33,114.91 255.52,114.93 255.72,114.95 255.91,114.97 256.10,114.98 256.30,114.99 256.49,115.00 256.68,115.00 256.88,115.00 257.07,115.00 257.26,114.99 257.46,114.98 257.65,114.97 257.84,114.95 258.04,114.93 258.23,114.91 258.43,114.88 258.62,114.86 258.81,114.83 259.01,114.80 259.20,114.77 259.39,114.75 259.59,114.72 259.78,114.69 259.97,114.66 260.17,114.64 260.36,114.61 260.55,114.59 260.75,114.57 260.94,114.55 261.13,114.54 261.33,114.53 261.52,114.52 261.72,114.51 261.91,114.51 262.10,114.52 262.30,114.52 262.49,114.53 262.68,114.54 262.88,114.55 263.07,114.57 263.26,114.59 263.46,114.61 263.65,114.64 263.84,114.66 264.04,114.69 264.23,114.71 264.42,114.74 264.62,114.77 264.81,114.79 265.01,114.82 265.20,114.85 265.39,114.87 265.59,114.89 265.78,114.91 265.97,114.93 266.17,114.94 266.36,114.95 266.55,114.96 266.75,114.97 266.94,114.97 267.13,114.97 267.33,114.97 267.52,114.96 267.71,114.95 267.91,114.94 268.10,114.93 268.30,114.91 268.49,114.89 268.68,114.87 268.88,114.85 269.07,114.82 269.26,114.80 269.46,114.77 269.65,114.75 269.84,114.72 270.04,114.70 270.23,114.67 270.42,114.65 270.62,114.63 270.81,114.61 271.00,114.59 271.20,114.58 271.39,114.56 271.59,114.55 271.78,114.55 271.97,114.54 272.17,114.54 272.36,114.54 272.55,114.55 272.75,114.55 272.94,114.56 273.13,114.58 273.33,114.59 273.52,114.61 273.71,114.63 273.91,114.65 274.10,114.67 274.29,114.69 274.49,114.72 274.68,114.74 274.88,114.77 275.07,114.79 275.26,114.81 275.46,114.83 275.65,114.86 275.84,114.87 276.04,114.89 276.23,114.91 276.42,114.92 276.62,114.93 276.81,114.94 277.00,114.94 277.20,114.95 277.39,114.95 277.58,114.94 277.78,114.94 277.97,114.93 278.17,114.92 278.36,114.91 278.55,114.89 278.75,114.87 278.94,114.85 279.13,114.83 279.33,114.81 279.52,114.79 279.71,114.77 279.91,114.75 280.10,114.72 280.29,114.70 280.49,114.68 280.68,114.66 280.87,114.64 281.07,114.62 281.26,114.61 281.46,114.60 281.65,114.58 281.84,114.58 282.04,114.57 282.23,114.57 282.42,114.56 282.62,114.57 282.81,114.57 283.00,114.58 283.20,114.59 283.39,114.60 283.58,114.61 283.78,114.63 283.97,114.64 284.16,114.66 284.36,114.68 284.55,114.70 284.75,114.72 284.94,114.74 285.13,114.76 285.33,114.79 285.52,114.81 285.71,114.83 285.91,114.84 286.10,114.86 286.29,114.88 286.49,114.89 286.68,114.90 286.87,114.91 287.07,114.92 287.26,114.92 287.45,114.92 287.65,114.92 287.84,114.92 288.04,114.92 288.23,114.91 288.42,114.90 288.62,114.89 288.81,114.87 289.00,114.86 289.20,114.84 289.39,114.82 289.58,114.81 289.78,114.79 289.97,114.77 290.16,114.75 290.36,114.73 290.55,114.71 290.74,114.69 290.94,114.67 291.13,114.65 291.33,114.64 291.52,114.62 291.71,114.61 291.91,114.60 292.10,114.60 292.29,114.59 292.49,114.59 292.68,114.59 292.87,114.59 293.07,114.59 293.26,114.60 293.45,114.60 293.65,114.61 293.84,114.63 294.04,114.64 294.23,114.65 294.42,114.67 294.62,114.69 294.81,114.71 295.00,114.73 295.20,114.74 295.39,114.76 295.58,114.78 295.78,114.80 295.97,114.82 296.16,114.83 296.36,114.85 296.55,114.86 296.74,114.87 296.94,114.88 297.13,114.89 297.33,114.90 297.52,114.90 297.71,114.90 297.91,114.90 298.10,114.90 298.29,114.90 298.49,114.89 298.68,114.88 298.87,114.87 299.07,114.86 299.26,114.85 299.45,114.83 299.65,114.82 299.84,114.80 300.03,114.78 300.23,114.76 300.42,114.75 300.62,114.73 300.81,114.71 301.00,114.70 301.20,114.68 301.39,114.66 301.58,114.65 301.78,114.64 301.97,114.63 302.16,114.62 302.36,114.61 302.55,114.61 302.74,114.61 302.94,114.60 303.13,114.61 303.32,114.61 303.52,114.61 303.71,114.62 303.91,114.63 304.10,114.64 304.29,114.65 304.49,114.67 304.68,114.68 304.87,114.70 305.07,114.71 305.26,114.73 305.45,114.74 305.65,114.76 305.84,114.78 306.03,114.79 306.23,114.81 306.42,114.82 306.61,114.84 306.81,114.85 307.00,114.86 307.20,114.87 307.39,114.88 307.58,114.88 307.78,114.89 307.97,114.89 308.16,114.89 308.36,114.88 308.55,114.88 308.74,114.87 308.94,114.87 309.13,114.86 309.32,114.85 309.52,114.84 309.71,114.82 309.90,114.81 310.10,114.79 310.29,114.78 310.49,114.76 310.68,114.75 310.87,114.73 311.07,114.72 311.26,114.70 311.45,114.69 311.65,114.67 311.84,114.66 312.03,114.65 312.23,114.64 312.42,114.63 312.61,114.63 312.81,114.62 313.00,114.62 313.19,114.62 313.39,114.62 313.58,114.62 313.78,114.63 313.97,114.64 314.16,114.64 314.36,114.65 314.55,114.66 314.74,114.68 314.94,114.69 315.13,114.70 315.32,114.72 315.52,114.73 315.71,114.75 315.90,114.76 316.10,114.77 316.29,114.79 316.48,114.80 316.68,114.82 316.87,114.83 317.07,114.84 317.26,114.85 317.45,114.86 317.65,114.86 317.84,114.87 318.03,114.87 318.23,114.87 318.42,114.87 318.61,114.87 318.81,114.87 319.00,114.86 319.19,114.85 319.39,114.85 319.58,114.84 319.77,114.83 319.97,114.81 320.16,114.80 320.36,114.79 320.55,114.78 320.74,114.76 320.94,114.75 321.13,114.73 321.32,114.72 321.52,114.71 321.71,114.69 321.90,114.68 322.10,114.67 322.29,114.66 322.48,114.65 322.68,114.65 322.87,114.64 323.06,114.64 323.26,114.64 323.45,114.64 323.65,114.64 323.84,114.64 324.03,114.64 324.23,114.65 324.42,114.66 324.61,114.66 324.81,114.67 325.00,114.68" fill="none" stroke="#4a9ad4" stroke-width="0.85" stroke-linejoin="round"/>
<ellipse cx="129.0" cy="114.7" rx="12.5" ry="28.1" fill="none" stroke="#1a1a1a" stroke-width="0.9"/>
<ellipse cx="214.3" cy="114.3" rx="11.8" ry="28.2" fill="none" stroke="#1a1a1a" stroke-width="0.9"/>
<text transform="rotate(0.03 54.2 152.4)" x="54.25" y="152.40" font-size="7.7" font-family="Liberation Serif, serif" text-anchor="middle" fill="#111"  stroke="#111" stroke-width="0.15">0</text>
<text transform="rotate(0.03 88.1 152.4)" x="88.09" y="152.40" font-size="7.7" font-family="Liberation Serif, serif" text-anchor="middle" fill="#111"  stroke="#111" stroke-width="0.15">1</text>
<text transform="rotate(0.03 121.9 152.4)" x="121.94" y="152.40" font-size="7.7" font-family="Liberation Serif, serif" text-anchor="middle" fill="#111"  stroke="#111" stroke-width="0.15">2</text>
<text transform="rotate(0.03 155.8 152.4)" x="155.78" y="152.40" font-size="7.7" font-family="Liberation Serif, serif" text-anchor="middle" fill="#111"  stroke="#111" stroke-width="0.15">3</text>
<text transform="rotate(0.03 189.6 152.4)" x="189.62" y="152.40" font-size="7.7" font-family="Liberation Serif, serif" text-anchor="middle" fill="#111"  stroke="#111" stroke-width="0.15">4</text>
<text transform="rotate(0.03 223.5 152.4)" x="223.47" y="152.40" font-size="7.7" font-family="Liberation Serif, serif" text-anchor="middle" fill="#111"  stroke="#111" stroke-width="0.15">5</text>
<text transform="rotate(0.03 257.3 152.4)" x="257.31" y="152.40" font-size="7.7" font-family="Liberation Serif, serif" text-anchor="middle" fill="#111"  stroke="#111" stroke-width="0.15">6</text>
<text transform="rotate(0.03 291.2 152.4)" x="291.16" y="152.40" font-size="7.7" font-family="Liberation Serif, serif" text-anchor="middle" fill="#111"  stroke="#111" stroke-width="0.15">7</text>
<text transform="rotate(0.03 325.0 152.4)" x="325.00" y="152.40" font-size="7.7" font-family="Liberation Serif, serif" text-anchor="middle" fill="#111"  stroke="#111" stroke-width="0.15">8</text>
<text transform="rotate(0.03 51.8 89.8)" x="51.80" y="89.80" font-size="7.7" font-family="Liberation Serif, serif" text-anchor="end" fill="#111"  stroke="#111" stroke-width="0.15">1</text>
<text transform="rotate(0.03 51.8 117.2)" x="51.80" y="117.20" font-size="7.7" font-family="Liberation Serif, serif" text-anchor="end" fill="#111"  stroke="#111" stroke-width="0.15">0</text>
<text transform="rotate(0.03 51.8 145.2)" x="51.80" y="145.20" font-size="7.7" font-family="Liberation Serif, serif" text-anchor="end" fill="#111"  stroke="#111" stroke-width="0.15">-1</text>
<text transform="translate(40.6,114.5) rotate(-89.97)" font-size="8.4" font-family="Liberation Serif, serif" text-anchor="middle" fill="#222">Amplitude(V)</text>
<text transform="rotate(0.03 190.0 163.0)" x="190.00" y="163.00" font-size="8.1" font-family="Liberation Serif, serif" text-anchor="middle" fill="#111"  stroke="#111" stroke-width="0.15">Time(s)</text>
<text transform="rotate(0.03 300 300)" x="307.5" y="164.8" font-size="7.8" font-family="Liberation Serif, serif" fill="#111" stroke="#111" stroke-width="0.15">×10<tspan dy="-3.3" font-size="6.3">-4</tspan></text>
<text transform="rotate(0.03 72.0 138.2)" x="72.00" y="138.20" font-size="7.6" font-family="Liberation Sans, sans-serif" text-anchor="start" fill="#111"  stroke="#111" stroke-width="0.22">incident wave</text>
<text transform="rotate(0.03 151.2 139.0)" x="151.20" y="139.00" font-size="7.6" font-family="Liberation Sans, sans-serif" text-anchor="start" fill="#111"  stroke="#111" stroke-width="0.22">reflection wave</text>
<line x1="102.50" y1="130.00" x2="113.49" y2="124.58" stroke="#111" stroke-width="1.05"/>
<polygon points="116.90,122.90 113.44,126.73 111.75,123.32" fill="#111"/>
<line x1="185.80" y1="131.40" x2="199.20" y2="125.77" stroke="#111" stroke-width="1.05"/>
<polygon points="202.70,124.30 199.01,127.91 197.54,124.41" fill="#111"/>
<text transform="rotate(0.03 178.9 174.4)" x="178.90" y="174.40" font-size="8.8" font-family="Liberation Serif, serif" text-anchor="middle" fill="#111" font-weight="bold" stroke="#111" stroke-width="0.18">(c)</text>
<rect x="50.5" y="188.8" width="273.0" height="55.5" fill="#fff" stroke="#4d4d4d" stroke-width="0.6"/>
<line x1="89.50" y1="244.3" x2="89.50" y2="241.70000000000002" stroke="#4d4d4d" stroke-width="0.6"/>
<line x1="89.50" y1="188.8" x2="89.50" y2="191.4" stroke="#4d4d4d" stroke-width="0.6"/>
<line x1="128.50" y1="244.3" x2="128.50" y2="241.70000000000002" stroke="#4d4d4d" stroke-width="0.6"/>
<line x1="128.50" y1="188.8" x2="128.50" y2="191.4" stroke="#4d4d4d" stroke-width="0.6"/>
<line x1="167.50" y1="244.3" x2="167.50" y2="241.70000000000002" stroke="#4d4d4d" stroke-width="0.6"/>
<line x1="167.50" y1="188.8" x2="167.50" y2="191.4" stroke="#4d4d4d" stroke-width="0.6"/>
<line x1="206.50" y1="244.3" x2="206.50" y2="241.70000000000002" stroke="#4d4d4d" stroke-width="0.6"/>
<line x1="206.50" y1="188.8" x2="206.50" y2="191.4" stroke="#4d4d4d" stroke-width="0.6"/>
<line x1="245.50" y1="244.3" x2="245.50" y2="241.70000000000002" stroke="#4d4d4d" stroke-width="0.6"/>
<line x1="245.50" y1="188.8" x2="245.50" y2="191.4" stroke="#4d4d4d" stroke-width="0.6"/>
<line x1="284.50" y1="244.3" x2="284.50" y2="241.70000000000002" stroke="#4d4d4d" stroke-width="0.6"/>
<line x1="284.50" y1="188.8" x2="284.50" y2="191.4" stroke="#4d4d4d" stroke-width="0.6"/>
<line x1="50.5" y1="216.55" x2="53.1" y2="216.55" stroke="#4d4d4d" stroke-width="0.6"/>
<line x1="323.5" y1="216.55" x2="320.9" y2="216.55" stroke="#4d4d4d" stroke-width="0.6"/>
<polyline points="50.50,216.55 50.73,216.55 50.96,216.55 51.18,216.55 51.41,216.55 51.64,216.55 51.87,216.55 52.09,216.55 52.32,216.55 52.55,216.55 52.78,216.55 53.00,216.55 53.23,216.55 53.46,216.55 53.69,216.55 53.92,216.55 54.14,216.55 54.37,216.55 54.60,216.55 54.83,216.55 55.05,216.55 55.28,216.55 55.51,216.55 55.74,216.55 55.96,216.55 56.19,216.55 56.42,216.55 56.65,216.55 56.88,216.55 57.10,216.55 57.33,216.55 57.56,216.55 57.79,216.55 58.01,216.55 58.24,216.55 58.47,216.55 58.70,216.55 58.92,216.55 59.15,216.55 59.38,216.55 59.61,216.55 59.84,216.55 60.06,216.55 60.29,216.55 60.52,216.55 60.75,216.55 60.97,216.55 61.20,216.55 61.43,216.55 61.66,216.55 61.88,216.55 62.11,216.55 62.34,216.55 62.57,216.55 62.80,216.55 63.02,216.55 63.25,216.55 63.48,216.55 63.71,216.55 63.93,216.55 64.16,216.55 64.39,216.55 64.62,216.55 64.84,216.55 65.07,216.55 65.30,216.55 65.53,216.55 65.76,216.55 65.98,216.55 66.21,216.55 66.44,216.55 66.67,216.55 66.89,216.55 67.12,216.55 67.35,216.55 67.58,216.55 67.80,216.55 68.03,216.55 68.26,216.55 68.49,216.55 68.72,216.55 68.94,216.55 69.17,216.55 69.40,216.55 69.63,216.55 69.85,216.55 70.08,216.55 70.31,216.55 70.54,216.55 70.76,216.55 70.99,216.55 71.22,216.55 71.45,216.55 71.68,216.55 71.90,216.55 72.13,216.55 72.36,216.55 72.59,216.55 72.81,216.55 73.04,216.55 73.27,216.55 73.50,216.55 73.72,216.55 73.95,216.55 74.18,216.55 74.41,216.55 74.64,216.55 74.86,216.55 75.09,216.55 75.32,216.55 75.55,216.55 75.77,216.55 76.00,216.55 76.23,216.55 76.46,216.55 76.68,216.55 76.91,216.55 77.14,216.55 77.37,216.55 77.60,216.55 77.82,216.55 78.05,216.55 78.28,216.55 78.51,216.55 78.73,216.55 78.96,216.55 79.19,216.55 79.42,216.55 79.64,216.55 79.87,216.55 80.10,216.55 80.33,216.55 80.56,216.55 80.78,216.55 81.01,216.55 81.24,216.55 81.47,216.55 81.69,216.55 81.92,216.55 82.15,216.55 82.38,216.55 82.60,216.55 82.83,216.55 83.06,216.55 83.29,216.55 83.52,216.55 83.74,216.55 83.97,216.55 84.20,216.55 84.43,216.55 84.65,216.55 84.88,216.55 85.11,216.55 85.34,216.55 85.56,216.55 85.79,216.55 86.02,216.55 86.25,216.55 86.47,216.55 86.70,216.55 86.93,216.55 87.16,216.55 87.39,216.55 87.61,216.55 87.84,216.55 88.07,216.55 88.30,216.55 88.52,216.55 88.75,216.55 88.98,216.55 89.21,216.55 89.43,216.55 89.66,216.55 89.89,216.55 90.12,216.55 90.35,216.55 90.57,216.55 90.80,216.55 91.03,216.55 91.26,216.55 91.48,216.55 91.71,216.55 91.94,216.55 92.17,216.55 92.39,216.55 92.62,216.55 92.85,216.55 93.08,216.55 93.31,216.55 93.53,216.55 93.76,216.55 93.99,216.55 94.22,216.55 94.44,216.55 94.67,216.55 94.90,216.55 95.13,216.55 95.35,216.55 95.58,216.55 95.81,216.55 96.04,216.55 96.27,216.55 96.49,216.55 96.72,216.55 96.95,216.55 97.18,216.55 97.40,216.55 97.63,216.55 97.86,216.55 98.09,216.55 98.31,216.55 98.54,216.55 98.77,216.55 99.00,216.55 99.23,216.55 99.45,216.55 99.68,216.55 99.91,216.55 100.14,216.55 100.36,216.55 100.59,216.55 100.82,216.55 101.05,216.55 101.27,216.55 101.50,216.55 101.73,216.55 101.96,216.55 102.19,216.55 102.41,216.55 102.64,216.55 102.87,216.55 103.10,216.55 103.32,216.55 103.55,216.55 103.78,216.55 104.01,216.55 104.23,216.55 104.46,216.55 104.69,216.55 104.92,216.55 105.15,216.55 105.37,216.55 105.60,216.55 105.83,216.55 106.06,216.55 106.28,216.55 106.51,216.55 106.74,216.55 106.97,216.55 107.19,216.55 107.42,216.55 107.65,216.55 107.88,216.55 108.11,216.55 108.33,216.55 108.56,216.55 108.79,216.55 109.02,216.55 109.24,216.55 109.47,216.55 109.70,216.55 109.93,216.55 110.15,216.55 110.38,216.55 110.61,216.55 110.84,216.55 111.07,216.55 111.29,216.55 111.52,216.55 111.75,216.55 111.98,216.55 112.20,216.55 112.43,216.55 112.66,216.55 112.89,216.55 113.11,216.55 113.34,216.55 113.57,216.55 113.80,216.55 114.03,216.55 114.25,216.55 114.48,216.55 114.71,216.55 114.94,216.55 115.16,216.55 115.39,216.55 115.62,216.55 115.85,216.55 116.07,216.55 116.30,216.55 116.53,216.55 116.76,216.55 116.99,216.55 117.21,216.55 117.44,216.55 117.67,216.55 117.90,216.55 118.12,216.55 118.35,216.55 118.58,216.55 118.81,216.55 119.03,216.55 119.26,216.55 119.49,216.55 119.72,216.55 119.95,216.55 120.17,216.55 120.40,216.55 120.63,216.55 120.86,216.55 121.08,216.55 121.31,216.55 121.54,216.55 121.77,216.55 121.99,216.55 122.22,216.55 122.45,216.55 122.68,216.55 122.91,216.55 123.13,216.55 123.36,216.55 123.59,216.55 123.82,216.55 124.04,216.55 124.27,216.55 124.50,216.55 124.73,216.55 124.95,216.55 125.18,216.55 125.41,216.55 125.64,216.55 125.87,216.55 126.09,216.55 126.32,216.55 126.55,216.55 126.78,216.55 127.00,216.55 127.23,216.55 127.46,216.55 127.69,216.55 127.91,216.55 128.14,216.55 128.37,216.55 128.60,216.55 128.83,216.55 129.05,216.55 129.28,216.55 129.51,216.55 129.74,216.55 129.96,216.55 130.19,216.55 130.42,216.55 130.65,216.55 130.87,216.55 131.10,216.55 131.33,216.55 131.56,216.55 131.79,216.55 132.01,216.55 132.24,216.55 132.47,216.55 132.70,216.55 132.92,216.55 133.15,216.55 133.38,216.55 133.61,216.55 133.83,216.55 134.06,216.55 134.29,216.55 134.52,216.55 134.75,216.55 134.97,216.55 135.20,216.55 135.43,216.55 135.66,216.55 135.88,216.55 136.11,216.55 136.34,216.55 136.57,216.55 136.79,216.55 137.02,216.55 137.25,216.55 137.48,216.55 137.71,216.55 137.93,216.55 138.16,216.55 138.39,216.55 138.62,216.55 138.84,216.55 139.07,216.55 139.30,216.55 139.53,216.55 139.75,216.55 139.98,216.55 140.21,216.55 140.44,216.55 140.67,216.55 140.89,216.55 141.12,216.55 141.35,216.55 141.58,216.55 141.80,216.55 142.03,216.55 142.26,216.55 142.49,216.55 142.71,216.55 142.94,216.55 143.17,216.55 143.40,216.55 143.63,216.55 143.85,216.55 144.08,216.55 144.31,216.55 144.54,216.55 144.76,216.55 144.99,216.55 145.22,216.55 145.45,216.55 145.67,216.55 145.90,216.55 146.13,216.55 146.36,216.55 146.59,216.55 146.81,216.55 147.04,216.55 147.27,216.55 147.50,216.55 147.72,216.55 147.95,216.55 148.18,216.55 148.41,216.55 148.63,216.55 148.86,216.55 149.09,216.55 149.32,216.55 149.55,216.55 149.77,216.55 150.00,216.55 150.23,216.55 150.46,216.55 150.68,216.55 150.91,216.55 151.14,216.55 151.37,216.55 151.59,216.54 151.82,216.54 152.05,216.54 152.28,216.53 152.51,216.52 152.73,216.51 152.96,216.49 153.19,216.47 153.42,216.44 153.64,216.40 153.87,216.35 154.10,216.28 154.33,216.19 154.55,216.07 154.78,215.92 155.01,215.73 155.24,215.50 155.46,215.21 155.69,214.85 155.92,214.42 156.15,213.90 156.38,213.28 156.60,212.56 156.83,211.72 157.06,210.76 157.29,209.66 157.51,208.44 157.74,207.08 157.97,205.61 158.20,204.03 158.42,202.36 158.65,200.62 158.88,198.86 159.11,197.10 159.34,195.41 159.56,193.81 159.79,192.38 160.02,191.17 160.25,190.23 160.47,189.63 160.70,189.40 160.93,189.60 161.16,190.24 161.38,191.37 161.61,192.98 161.84,195.06 162.07,197.59 162.30,200.53 162.52,203.83 162.75,207.41 162.98,211.21 163.21,215.13 163.43,219.34 163.66,223.61 163.89,227.68 164.12,231.45 164.34,234.81 164.57,237.69 164.80,240.03 165.03,241.80 165.26,242.98 165.48,243.59 165.71,243.67 165.94,243.24 166.17,242.39 166.39,241.17 166.62,239.66 166.85,237.95 167.08,236.09 167.30,234.16 167.53,232.22 167.76,230.32 167.99,228.51 168.22,226.81 168.44,225.25 168.67,223.85 168.90,222.59 169.13,221.49 169.35,220.53 169.58,219.70 169.81,218.98 170.04,218.36 170.26,217.82 170.49,217.33 170.72,216.90 170.95,216.51 171.18,216.17 171.40,215.87 171.63,215.63 171.86,215.45 172.09,215.34 172.31,215.30 172.54,215.33 172.77,215.42 173.00,215.55 173.22,215.71 173.45,215.87 173.68,216.02 173.91,216.16 174.14,216.27 174.36,216.36 174.59,216.43 174.82,216.47 175.05,216.50 175.27,216.52 175.50,216.54 175.73,216.54 175.96,216.55 176.18,216.55 176.41,216.55 176.64,216.55 176.87,216.55 177.10,216.55 177.32,216.55 177.55,216.55 177.78,216.55 178.01,216.55 178.23,216.55 178.46,216.55 178.69,216.55 178.92,216.55 179.14,216.55 179.37,216.55 179.60,216.55 179.83,216.55 180.06,216.55 180.28,216.55 180.51,216.55 180.74,216.55 180.97,216.55 181.19,216.55 181.42,216.55 181.65,216.55 181.88,216.55 182.10,216.55 182.33,216.55 182.56,216.55 182.79,216.55 183.02,216.55 183.24,216.55 183.47,216.55 183.70,216.55 183.93,216.55 184.15,216.55 184.38,216.55 184.61,216.55 184.84,216.55 185.06,216.55 185.29,216.55 185.52,216.55 185.75,216.55 185.98,216.55 186.20,216.55 186.43,216.55 186.66,216.55 186.89,216.55 187.11,216.55 187.34,216.56 187.57,216.56 187.80,216.56 188.02,216.56 188.25,216.57 188.48,216.57 188.71,216.58 188.94,216.59 189.16,216.60 189.39,216.61 189.62,216.62 189.85,216.64 190.07,216.67 190.30,216.70 190.53,216.73 190.76,216.78 190.98,216.83 191.21,216.90 191.44,216.97 191.67,217.07 191.90,217.18 192.12,217.30 192.35,217.45 192.58,217.63 192.81,217.83 193.03,218.06 193.26,218.33 193.49,218.63 193.72,218.98 193.94,219.36 194.17,219.79 194.40,220.26 194.63,220.79 194.86,221.36 195.08,221.98 195.31,222.64 195.54,223.36 195.77,224.11 195.99,224.91 196.22,225.73 196.45,226.58 196.68,227.45 196.90,228.32 197.13,229.19 197.36,230.05 197.59,230.87 197.82,231.64 198.04,232.35 198.27,232.99 198.50,233.53 198.73,233.96 198.95,234.27 199.18,234.44 199.41,234.46 199.64,234.32 199.86,234.00 200.09,233.52 200.32,232.85 200.55,232.01 200.78,230.98 201.00,229.80 201.23,228.45 201.46,226.95 201.69,225.32 201.91,223.59 202.14,221.76 202.37,219.86 202.60,217.92 202.82,215.50 203.05,212.03 203.28,208.69 203.51,205.55 203.74,202.69 203.96,200.18 204.19,198.06 204.42,196.38 204.65,195.15 204.87,194.38 205.10,194.04 205.33,194.11 205.56,194.55 205.78,195.31 206.01,196.34 206.24,197.59 206.47,198.99 206.70,200.49 206.92,202.05 207.15,203.60 207.38,205.12 207.61,206.58 207.83,207.95 208.06,209.21 208.29,210.35 208.52,211.37 208.74,212.28 208.97,213.06 209.20,213.74 209.43,214.33 209.66,214.83 209.88,215.27 210.11,215.64 210.34,215.97 210.57,216.27 210.79,216.52 211.02,216.75 211.25,216.94 211.48,217.09 211.70,217.20 211.93,217.26 212.16,217.28 212.39,217.25 212.62,217.20 212.84,217.12 213.07,217.02 213.30,216.93 213.53,216.84 213.75,216.76 213.98,216.70 214.21,216.65 214.44,216.61 214.66,216.59 214.89,216.57 215.12,216.56 215.35,216.56 215.58,216.55 215.80,216.55 216.03,216.55 216.26,216.55 216.49,216.55 216.71,216.55 216.94,216.55 217.17,216.55 217.40,216.55 217.62,216.55 217.85,216.55 218.08,216.55 218.31,216.55 218.54,216.55 218.76,216.55 218.99,216.55 219.22,216.55 219.45,216.55 219.67,216.55 219.90,216.55 220.13,216.55 220.36,216.55 220.58,216.55 220.81,216.55 221.04,216.55 221.27,216.55 221.49,216.55 221.72,216.55 221.95,216.55 222.18,216.55 222.41,216.55 222.63,216.55 222.86,216.55 223.09,216.55 223.32,216.55 223.54,216.55 223.77,216.55 224.00,216.55 224.23,216.55 224.45,216.55 224.68,216.55 224.91,216.55 225.14,216.55 225.37,216.55 225.59,216.55 225.82,216.55 226.05,216.55 226.28,216.55 226.50,216.55 226.73,216.55 226.96,216.55 227.19,216.55 227.41,216.55 227.64,216.55 227.87,216.55 228.10,216.55 228.33,216.55 228.55,216.55 228.78,216.55 229.01,216.55 229.24,216.55 229.46,216.55 229.69,216.55 229.92,216.55 230.15,216.55 230.37,216.55 230.60,216.55 230.83,216.55 231.06,216.55 231.29,216.55 231.51,216.55 231.74,216.55 231.97,216.55 232.20,216.55 232.42,216.55 232.65,216.55 232.88,216.55 233.11,216.55 233.33,216.55 233.56,216.55 233.79,216.55 234.02,216.55 234.25,216.55 234.47,216.55 234.70,216.55 234.93,216.55 235.16,216.55 235.38,216.55 235.61,216.55 235.84,216.55 236.07,216.55 236.29,216.55 236.52,216.55 236.75,216.55 236.98,216.55 237.21,216.55 237.43,216.55 237.66,216.55 237.89,216.55 238.12,216.55 238.34,216.55 238.57,216.55 238.80,216.55 239.03,216.55 239.25,216.55 239.48,216.55 239.71,216.55 239.94,216.55 240.17,216.55 240.39,216.55 240.62,216.55 240.85,216.55 241.08,216.55 241.30,216.55 241.53,216.55 241.76,216.55 241.99,216.55 242.21,216.55 242.44,216.55 242.67,216.55 242.90,216.55 243.13,216.55 243.35,216.55 243.58,216.55 243.81,216.55 244.04,216.55 244.26,216.55 244.49,216.55 244.72,216.55 244.95,216.55 245.17,216.55 245.40,216.55 245.63,216.55 245.86,216.55 246.09,216.55 246.31,216.55 246.54,216.55 246.77,216.55 247.00,216.55 247.22,216.55 247.45,216.55 247.68,216.55 247.91,216.55 248.13,216.55 248.36,216.55 248.59,216.55 248.82,216.55 249.05,216.55 249.27,216.55 249.50,216.55 249.73,216.55 249.96,216.55 250.18,216.55 250.41,216.55 250.64,216.55 250.87,216.55 251.09,216.55 251.32,216.55 251.55,216.55 251.78,216.55 252.01,216.55 252.23,216.55 252.46,216.55 252.69,216.55 252.92,216.55 253.14,216.55 253.37,216.55 253.60,216.55 253.83,216.55 254.05,216.55 254.28,216.55 254.51,216.55 254.74,216.55 254.97,216.55 255.19,216.55 255.42,216.55 255.65,216.55 255.88,216.55 256.10,216.55 256.33,216.55 256.56,216.55 256.79,216.55 257.01,216.55 257.24,216.55 257.47,216.55 257.70,216.55 257.93,216.55 258.15,216.55 258.38,216.55 258.61,216.55 258.84,216.55 259.06,216.55 259.29,216.55 259.52,216.55 259.75,216.55 259.97,216.55 260.20,216.55 260.43,216.55 260.66,216.55 260.89,216.55 261.11,216.55 261.34,216.55 261.57,216.55 261.80,216.55 262.02,216.55 262.25,216.55 262.48,216.55 262.71,216.55 262.93,216.55 263.16,216.55 263.39,216.55 263.62,216.55 263.85,216.55 264.07,216.55 264.30,216.55 264.53,216.55 264.76,216.55 264.98,216.55 265.21,216.55 265.44,216.55 265.67,216.55 265.89,216.55 266.12,216.55 266.35,216.55 266.58,216.55 266.81,216.55 267.03,216.55 267.26,216.55 267.49,216.55 267.72,216.55 267.94,216.55 268.17,216.55 268.40,216.55 268.63,216.55 268.85,216.55 269.08,216.55 269.31,216.55 269.54,216.55 269.77,216.55 269.99,216.55 270.22,216.55 270.45,216.55 270.68,216.55 270.90,216.55 271.13,216.55 271.36,216.55 271.59,216.55 271.81,216.55 272.04,216.55 272.27,216.55 272.50,216.55 272.73,216.54 272.95,216.54 273.18,216.54 273.41,216.54 273.64,216.53 273.86,216.52 274.09,216.51 274.32,216.50 274.55,216.49 274.77,216.47 275.00,216.44 275.23,216.41 275.46,216.37 275.69,216.33 275.91,216.27 276.14,216.20 276.37,216.11 276.60,216.01 276.82,215.88 277.05,215.74 277.28,215.57 277.51,215.37 277.73,215.15 277.96,214.90 278.19,214.62 278.42,214.30 278.65,213.96 278.87,213.59 279.10,213.19 279.33,212.77 279.56,212.33 279.78,211.88 280.01,211.43 280.24,210.98 280.47,210.55 280.69,210.14 280.92,209.78 281.15,209.47 281.38,209.22 281.61,209.04 281.83,208.96 282.06,208.97 282.29,209.08 282.52,209.30 282.74,209.64 282.97,210.09 283.20,210.65 283.43,211.31 283.65,212.07 283.88,212.92 284.11,213.83 284.34,214.80 284.57,215.80 284.79,216.87 285.02,218.11 285.25,219.32 285.48,220.48 285.70,221.59 285.93,222.61 286.16,223.55 286.39,224.38 286.61,225.10 286.84,225.70 287.07,226.17 287.30,226.52 287.53,226.75 287.75,226.86 287.98,226.85 288.21,226.74 288.44,226.53 288.66,226.24 288.89,225.88 289.12,225.45 289.35,224.98 289.57,224.47 289.80,223.94 290.03,223.39 290.26,222.83 290.48,222.28 290.71,221.75 290.94,221.23 291.17,220.73 291.40,220.27 291.62,219.83 291.85,219.43 292.08,219.06 292.31,218.72 292.53,218.42 292.76,218.15 292.99,217.91 293.22,217.70 293.44,217.51 293.67,217.35 293.90,217.22 294.13,217.10 294.36,217.00 294.58,216.92 294.81,216.85 295.04,216.79 295.27,216.74 295.49,216.70 295.72,216.67 295.95,216.65 296.18,216.62 296.40,216.61 296.63,216.60 296.86,216.58 297.09,216.58 297.32,216.57 297.54,216.57 297.77,216.56 298.00,216.56 298.23,216.56 298.45,216.55 298.68,216.55 298.91,216.55 299.14,216.55 299.36,216.55 299.59,216.55 299.82,216.55 300.05,216.55 300.28,216.55 300.50,216.55 300.73,216.55 300.96,216.55 301.19,216.55 301.41,216.55 301.64,216.55 301.87,216.55 302.10,216.55 302.32,216.55 302.55,216.55 302.78,216.55 303.01,216.55 303.24,216.55 303.46,216.55 303.69,216.55 303.92,216.55 304.15,216.55 304.37,216.55 304.60,216.55 304.83,216.55 305.06,216.55 305.28,216.55 305.51,216.55 305.74,216.55 305.97,216.55 306.20,216.55 306.42,216.55 306.65,216.55 306.88,216.55 307.11,216.55 307.33,216.55 307.56,216.55 307.79,216.55 308.02,216.55 308.24,216.55 308.47,216.55 308.70,216.55 308.93,216.55 309.16,216.55 309.38,216.55 309.61,216.55 309.84,216.55 310.07,216.55 310.29,216.55 310.52,216.55 310.75,216.55 310.98,216.55 311.20,216.55 311.43,216.55 311.66,216.55 311.89,216.55 312.12,216.55 312.34,216.55 312.57,216.55 312.80,216.55 313.03,216.55 313.25,216.55 313.48,216.55 313.71,216.55 313.94,216.55 314.16,216.55 314.39,216.55 314.62,216.55 314.85,216.55 315.08,216.55 315.30,216.55 315.53,216.55 315.76,216.55 315.99,216.55 316.21,216.55 316.44,216.55 316.67,216.55 316.90,216.55 317.12,216.55 317.35,216.55 317.58,216.55 317.81,216.55 318.04,216.55 318.26,216.55 318.49,216.55 318.72,216.55 318.95,216.55 319.17,216.55 319.40,216.55 319.63,216.55 319.86,216.55 320.08,216.55 320.31,216.55 320.54,216.55 320.77,216.55 321.00,216.55 321.22,216.55 321.45,216.55 321.68,216.55 321.91,216.55 322.13,216.55 322.36,216.55 322.59,216.55 322.82,216.55 323.04,216.55 323.27,216.55 323.50,216.55" fill="none" stroke="#4a9ad4" stroke-width="0.85" stroke-linejoin="round"/>
<ellipse cx="161.8" cy="215.8" rx="12.4" ry="28.2" fill="none" stroke="#1a1a1a" stroke-width="0.9"/>
<ellipse cx="201.9" cy="214.7" rx="11.6" ry="22.4" fill="none" stroke="#1a1a1a" stroke-width="0.9"/>
<ellipse cx="285.8" cy="217.6" rx="9.9" ry="12.9" fill="none" stroke="#1a1a1a" stroke-width="0.9"/>
<text transform="rotate(0.03 50.5 255.2)" x="50.50" y="255.20" font-size="7.7" font-family="Liberation Serif, serif" text-anchor="middle" fill="#111"  stroke="#111" stroke-width="0.15">0</text>
<text transform="rotate(0.03 89.5 255.2)" x="89.50" y="255.20" font-size="7.7" font-family="Liberation Serif, serif" text-anchor="middle" fill="#111"  stroke="#111" stroke-width="0.15">0.5</text>
<text transform="rotate(0.03 128.5 255.2)" x="128.50" y="255.20" font-size="7.7" font-family="Liberation Serif, serif" text-anchor="middle" fill="#111"  stroke="#111" stroke-width="0.15">1</text>
<text transform="rotate(0.03 167.5 255.2)" x="167.50" y="255.20" font-size="7.7" font-family="Liberation Serif, serif" text-anchor="middle" fill="#111"  stroke="#111" stroke-width="0.15">1.5</text>
<text transform="rotate(0.03 206.5 255.2)" x="206.50" y="255.20" font-size="7.7" font-family="Liberation Serif, serif" text-anchor="middle" fill="#111"  stroke="#111" stroke-width="0.15">2</text>
<text transform="rotate(0.03 245.5 255.2)" x="245.50" y="255.20" font-size="7.7" font-family="Liberation Serif, serif" text-anchor="middle" fill="#111"  stroke="#111" stroke-width="0.15">2.5</text>
<text transform="rotate(0.03 284.5 255.2)" x="284.50" y="255.20" font-size="7.7" font-family="Liberation Serif, serif" text-anchor="middle" fill="#111"  stroke="#111" stroke-width="0.15">3</text>
<text transform="rotate(0.03 323.5 255.2)" x="323.50" y="255.20" font-size="7.7" font-family="Liberation Serif, serif" text-anchor="middle" fill="#111"  stroke="#111" stroke-width="0.15">3.5</text>
<text transform="rotate(0.03 48.2 191.8)" x="48.20" y="191.80" font-size="7.7" font-family="Liberation Serif, serif" text-anchor="end" fill="#111"  stroke="#111" stroke-width="0.15">1</text>
<text transform="rotate(0.03 48.2 219.4)" x="48.20" y="219.40" font-size="7.7" font-family="Liberation Serif, serif" text-anchor="end" fill="#111"  stroke="#111" stroke-width="0.15">0</text>
<text transform="rotate(0.03 48.2 247.6)" x="48.20" y="247.60" font-size="7.7" font-family="Liberation Serif, serif" text-anchor="end" fill="#111"  stroke="#111" stroke-width="0.15">-1</text>
<text transform="translate(37.0,216.5) rotate(-89.97)" font-size="8.4" font-family="Liberation Serif, serif" text-anchor="middle" fill="#222">Amplitude(V)</text>
<text transform="rotate(0.03 186.7 265.6)" x="186.70" y="265.60" font-size="8.1" font-family="Liberation Serif, serif" text-anchor="middle" fill="#111"  stroke="#111" stroke-width="0.15">Time(s)</text>
<text transform="rotate(0.03 300 300)" x="305.5" y="266.2" font-size="7.8" font-family="Liberation Serif, serif" fill="#111" stroke="#111" stroke-width="0.15">×10<tspan dy="-3.3" font-size="6.3">-4</tspan></text>
<text transform="rotate(0.03 105.3 239.0)" x="105.30" y="239.00" font-size="7.6" font-family="Liberation Sans, sans-serif" text-anchor="start" fill="#111"  stroke="#111" stroke-width="0.22">incident wave</text>
<text transform="rotate(0.03 218.9 201.5)" x="218.90" y="201.50" font-size="7.75" font-family="Liberation Sans, sans-serif" text-anchor="start" fill="#111"  stroke="#111" stroke-width="0.22">reflection from back edge</text>
<text transform="rotate(0.03 218.9 240.1)" x="218.90" y="240.10" font-size="7.75" font-family="Liberation Sans, sans-serif" text-anchor="start" fill="#111"  stroke="#111" stroke-width="0.22">reflection from front edge</text>
<line x1="134.40" y1="231.40" x2="146.09" y2="224.77" stroke="#111" stroke-width="1.05"/>
<polygon points="149.40,222.90 146.16,226.92 144.29,223.61" fill="#111"/>
<line x1="232.80" y1="232.80" x2="218.04" y2="224.81" stroke="#111" stroke-width="1.05"/>
<polygon points="214.70,223.00 219.83,223.61 218.02,226.96" fill="#111"/>
<line x1="261.00" y1="204.20" x2="273.75" y2="210.10" stroke="#111" stroke-width="1.05"/>
<polygon points="277.20,211.70 272.05,211.41 273.64,207.96" fill="#111"/>
<text transform="rotate(0.03 178.6 284.0)" x="178.60" y="284.00" font-size="8.8" font-family="Liberation Serif, serif" text-anchor="middle" fill="#111" font-weight="bold" stroke="#111" stroke-width="0.18">(d)</text>
<rect x="50.3" y="293.6" width="252.50" height="83.00" fill="#00008f"/>
<rect x="123" y="293.6" width="116.60" height="83.00" fill="#5555cd"/>
<g fill="#2424ae">
<rect x="135.30" y="293.6" width="1.5" height="83.00"/>
<rect x="138.30" y="293.6" width="1.5" height="83.00"/>
<rect x="141.50" y="293.6" width="1.5" height="83.00"/>
<rect x="144.20" y="293.6" width="1.5" height="83.00"/>
<rect x="147.50" y="293.6" width="1.5" height="83.00"/>
<rect x="150.30" y="293.6" width="1.5" height="83.00"/>
<rect x="153.70" y="293.6" width="1.5" height="83.00"/>
<rect x="156.30" y="293.6" width="1.5" height="83.00"/>
<rect x="159.70" y="293.6" width="1.5" height="83.00"/>
<rect x="202.50" y="293.6" width="1.5" height="83.00"/>
<rect x="206.90" y="293.6" width="1.5" height="83.00"/>
<rect x="213.70" y="293.6" width="1.5" height="83.00"/>
<rect x="216.50" y="293.6" width="1.5" height="83.00"/>
<rect x="219.50" y="293.6" width="1.5" height="83.00"/>
<rect x="222.60" y="293.6" width="1.5" height="83.00"/>
<rect x="225.60" y="293.6" width="1.5" height="83.00"/>
<rect x="228.60" y="293.6" width="1.5" height="83.00"/>
</g>
<g fill="#3a3abc">
<rect x="126.10" y="293.6" width="0.8" height="83.00"/>
<rect x="129.10" y="293.6" width="0.8" height="83.00"/>
<rect x="132.30" y="293.6" width="0.8" height="83.00"/>
<rect x="165.00" y="293.6" width="0.8" height="83.00"/>
<rect x="161.60" y="293.6" width="0.8" height="83.00"/>
<rect x="232.10" y="293.6" width="0.8" height="83.00"/>
<rect x="235.20" y="293.6" width="0.8" height="83.00"/>
</g>
<linearGradient id="e1" x1="0" y1="0" x2="1" y2="0"><stop offset="0.0000" stop-color="#00008f"/><stop offset="0.1032" stop-color="#0000ff"/><stop offset="0.2381" stop-color="#00ffff"/><stop offset="0.3730" stop-color="#ffff00"/><stop offset="0.4444" stop-color="#ff6000"/><stop offset="0.5079" stop-color="#d82020"/><stop offset="0.6032" stop-color="#b83030"/><stop offset="0.6825" stop-color="#d82020"/><stop offset="0.7222" stop-color="#ff6000"/><stop offset="0.7778" stop-color="#ffff00"/><stop offset="0.8571" stop-color="#00ffff"/><stop offset="0.9365" stop-color="#4040ff"/><stop offset="1.0000" stop-color="#5555cd"/></linearGradient>
<rect x="112.00" y="293.6" width="12.60" height="83.00" fill="url(#e1)"/>
<linearGradient id="e2" x1="0" y1="0" x2="1" y2="0"><stop offset="0.0000" stop-color="#5555cd"/><stop offset="0.0893" stop-color="#4060ff"/><stop offset="0.1875" stop-color="#00ffff"/><stop offset="0.3214" stop-color="#ffff00"/><stop offset="0.4107" stop-color="#ff6000"/><stop offset="0.4911" stop-color="#e02020"/><stop offset="0.5982" stop-color="#b02828"/><stop offset="0.6696" stop-color="#e02020"/><stop offset="0.7143" stop-color="#ff6000"/><stop offset="0.7679" stop-color="#ffff00"/><stop offset="0.8571" stop-color="#00ffff"/><stop offset="0.9375" stop-color="#4040ff"/><stop offset="1.0000" stop-color="#5555cd"/></linearGradient>
<rect x="191.80" y="293.6" width="11.20" height="83.00" fill="url(#e2)"/>
<rect x="124" y="302.32" width="68.50" height="1" fill="#1a1aa0" fill-opacity="0.6"/>
<rect x="202.6" y="302.32" width="37.00" height="1" fill="#1a1aa0" fill-opacity="0.6"/>
<rect x="113" y="302.32" width="11" height="1" fill="#202080" fill-opacity="0.22"/>
<rect x="192.5" y="302.32" width="10.1" height="1" fill="#202080" fill-opacity="0.22"/>
<rect x="124" y="311.54" width="68.50" height="1" fill="#1a1aa0" fill-opacity="0.6"/>
<rect x="202.6" y="311.54" width="37.00" height="1" fill="#1a1aa0" fill-opacity="0.6"/>
<rect x="113" y="311.54" width="11" height="1" fill="#202080" fill-opacity="0.22"/>
<rect x="192.5" y="311.54" width="10.1" height="1" fill="#202080" fill-opacity="0.22"/>
<rect x="124" y="320.77" width="68.50" height="1" fill="#1a1aa0" fill-opacity="0.6"/>
<rect x="202.6" y="320.77" width="37.00" height="1" fill="#1a1aa0" fill-opacity="0.6"/>
<rect x="113" y="320.77" width="11" height="1" fill="#202080" fill-opacity="0.22"/>
<rect x="192.5" y="320.77" width="10.1" height="1" fill="#202080" fill-opacity="0.22"/>
<rect x="124" y="329.99" width="68.50" height="1" fill="#1a1aa0" fill-opacity="0.6"/>
<rect x="202.6" y="329.99" width="37.00" height="1" fill="#1a1aa0" fill-opacity="0.6"/>
<rect x="113" y="329.99" width="11" height="1" fill="#202080" fill-opacity="0.22"/>
<rect x="192.5" y="329.99" width="10.1" height="1" fill="#202080" fill-opacity="0.22"/>
<rect x="124" y="339.21" width="68.50" height="1" fill="#1a1aa0" fill-opacity="0.6"/>
<rect x="202.6" y="339.21" width="37.00" height="1" fill="#1a1aa0" fill-opacity="0.6"/>
<rect x="113" y="339.21" width="11" height="1" fill="#202080" fill-opacity="0.22"/>
<rect x="192.5" y="339.21" width="10.1" height="1" fill="#202080" fill-opacity="0.22"/>
<rect x="124" y="348.43" width="68.50" height="1" fill="#1a1aa0" fill-opacity="0.6"/>
<rect x="202.6" y="348.43" width="37.00" height="1" fill="#1a1aa0" fill-opacity="0.6"/>
<rect x="113" y="348.43" width="11" height="1" fill="#202080" fill-opacity="0.22"/>
<rect x="192.5" y="348.43" width="10.1" height="1" fill="#202080" fill-opacity="0.22"/>
<rect x="124" y="357.66" width="68.50" height="1" fill="#1a1aa0" fill-opacity="0.6"/>
<rect x="202.6" y="357.66" width="37.00" height="1" fill="#1a1aa0" fill-opacity="0.6"/>
<rect x="113" y="357.66" width="11" height="1" fill="#202080" fill-opacity="0.22"/>
<rect x="192.5" y="357.66" width="10.1" height="1" fill="#202080" fill-opacity="0.22"/>
<rect x="124" y="366.88" width="68.50" height="1" fill="#1a1aa0" fill-opacity="0.6"/>
<rect x="202.6" y="366.88" width="37.00" height="1" fill="#1a1aa0" fill-opacity="0.6"/>
<rect x="113" y="366.88" width="11" height="1" fill="#202080" fill-opacity="0.22"/>
<rect x="192.5" y="366.88" width="10.1" height="1" fill="#202080" fill-opacity="0.22"/>
<rect x="106.30" y="293.70" width="25.30" height="82.80" fill="none" stroke="#ff0000" stroke-width="1.25" stroke-dasharray="4.2 3.3"/>
<rect x="185.00" y="293.70" width="24.80" height="82.80" fill="none" stroke="#ff0000" stroke-width="1.25" stroke-dasharray="4.2 3.3"/>
<rect x="308.8" y="293.7" width="11.50" height="82.60" fill="url(#jet)" stroke="#555" stroke-width="0.4"/>
<text transform="rotate(0.03 322.6 296.3)" x="322.60" y="296.30" font-size="7.7" font-family="Liberation Serif, serif" text-anchor="start" fill="#111"  stroke="#111" stroke-width="0.15">1</text>
<line x1="318.6" y1="293.70" x2="320.3" y2="293.70" stroke="#333" stroke-width="0.4"/>
<text transform="rotate(0.03 322.6 313.0)" x="322.60" y="313.00" font-size="7.7" font-family="Liberation Serif, serif" text-anchor="start" fill="#111"  stroke="#111" stroke-width="0.15">0.8</text>
<line x1="318.6" y1="310.40" x2="320.3" y2="310.40" stroke="#333" stroke-width="0.4"/>
<text transform="rotate(0.03 322.6 329.7)" x="322.60" y="329.70" font-size="7.7" font-family="Liberation Serif, serif" text-anchor="start" fill="#111"  stroke="#111" stroke-width="0.15">0.6</text>
<line x1="318.6" y1="327.10" x2="320.3" y2="327.10" stroke="#333" stroke-width="0.4"/>
<text transform="rotate(0.03 322.6 346.4)" x="322.60" y="346.40" font-size="7.7" font-family="Liberation Serif, serif" text-anchor="start" fill="#111"  stroke="#111" stroke-width="0.15">0.4</text>
<line x1="318.6" y1="343.80" x2="320.3" y2="343.80" stroke="#333" stroke-width="0.4"/>
<text transform="rotate(0.03 322.6 363.1)" x="322.60" y="363.10" font-size="7.7" font-family="Liberation Serif, serif" text-anchor="start" fill="#111"  stroke="#111" stroke-width="0.15">0.2</text>
<line x1="318.6" y1="360.50" x2="320.3" y2="360.50" stroke="#333" stroke-width="0.4"/>
<text transform="rotate(0.03 50.3 386.8)" x="50.30" y="386.80" font-size="7.7" font-family="Liberation Serif, serif" text-anchor="middle" fill="#111"  stroke="#111" stroke-width="0.15">0</text>
<text transform="rotate(0.03 81.9 386.8)" x="81.86" y="386.80" font-size="7.7" font-family="Liberation Serif, serif" text-anchor="middle" fill="#111"  stroke="#111" stroke-width="0.15">1</text>
<text transform="rotate(0.03 113.4 386.8)" x="113.42" y="386.80" font-size="7.7" font-family="Liberation Serif, serif" text-anchor="middle" fill="#111"  stroke="#111" stroke-width="0.15">2</text>
<text transform="rotate(0.03 145.0 386.8)" x="144.99" y="386.80" font-size="7.7" font-family="Liberation Serif, serif" text-anchor="middle" fill="#111"  stroke="#111" stroke-width="0.15">3</text>
<text transform="rotate(0.03 176.6 386.8)" x="176.55" y="386.80" font-size="7.7" font-family="Liberation Serif, serif" text-anchor="middle" fill="#111"  stroke="#111" stroke-width="0.15">4</text>
<text transform="rotate(0.03 208.1 386.8)" x="208.11" y="386.80" font-size="7.7" font-family="Liberation Serif, serif" text-anchor="middle" fill="#111"  stroke="#111" stroke-width="0.15">5</text>
<text transform="rotate(0.03 239.7 386.8)" x="239.68" y="386.80" font-size="7.7" font-family="Liberation Serif, serif" text-anchor="middle" fill="#111"  stroke="#111" stroke-width="0.15">6</text>
<text transform="rotate(0.03 271.2 386.8)" x="271.24" y="386.80" font-size="7.7" font-family="Liberation Serif, serif" text-anchor="middle" fill="#111"  stroke="#111" stroke-width="0.15">7</text>
<text transform="rotate(0.03 302.8 386.8)" x="302.80" y="386.80" font-size="7.7" font-family="Liberation Serif, serif" text-anchor="middle" fill="#111"  stroke="#111" stroke-width="0.15">8</text>
<text transform="rotate(0.03 46.8 378.9)" x="46.80" y="378.90" font-size="7.7" font-family="Liberation Serif, serif" text-anchor="end" fill="#111"  stroke="#111" stroke-width="0.15">0</text>
<text transform="rotate(0.03 46.8 355.8)" x="46.80" y="355.84" font-size="7.7" font-family="Liberation Serif, serif" text-anchor="end" fill="#111"  stroke="#111" stroke-width="0.15">100</text>
<text transform="rotate(0.03 46.8 332.8)" x="46.80" y="332.78" font-size="7.7" font-family="Liberation Serif, serif" text-anchor="end" fill="#111"  stroke="#111" stroke-width="0.15">200</text>
<text transform="rotate(0.03 46.8 309.7)" x="46.80" y="309.72" font-size="7.7" font-family="Liberation Serif, serif" text-anchor="end" fill="#111"  stroke="#111" stroke-width="0.15">300</text>
<text transform="translate(31.8,335.3) rotate(-89.97)" font-size="8.8" font-family="Liberation Serif, serif" text-anchor="middle" fill="#222">circumferential angle(deg)</text>
<text transform="rotate(0.03 176.6 397.7)" x="176.60" y="397.70" font-size="8.4" font-family="Liberation Serif, serif" text-anchor="middle" fill="#111"  stroke="#111" stroke-width="0.15">Time(s)</text>
<text transform="rotate(0.03 300 300)" x="285.3" y="399.0" font-size="7.8" font-family="Liberation Serif, serif" fill="#111" stroke="#111" stroke-width="0.15">×10<tspan dy="-3.3" font-size="6.3">-4</tspan></text>
<text transform="rotate(0.03 64.3 396.6)" x="64.30" y="396.60" font-size="7.2" font-family="Liberation Sans, sans-serif" text-anchor="start" fill="#111"  stroke="#111" stroke-width="0.22">Incident wave</text>
<text transform="rotate(0.03 208.3 396.9)" x="208.30" y="396.90" font-size="7.2" font-family="Liberation Sans, sans-serif" text-anchor="start" fill="#111"  stroke="#111" stroke-width="0.22">The pipe end</text>
<line x1="95.00" y1="387.90" x2="101.63" y2="369.21" stroke="#ff1010" stroke-width="1.3"/>
<polygon points="103.30,364.50 103.56,370.96 99.03,369.35" fill="#ff1010"/>
<line x1="222.50" y1="390.00" x2="212.76" y2="367.10" stroke="#ff1010" stroke-width="1.3"/>
<polygon points="210.80,362.50 215.36,367.08 210.94,368.96" fill="#ff1010"/>
<text transform="rotate(0.03 179.0 409.6)" x="179.00" y="409.60" font-size="8.8" font-family="Liberation Serif, serif" text-anchor="middle" fill="#111" font-weight="bold" stroke="#111" stroke-width="0.18">(e)</text>
<rect x="53.2" y="422.8" width="251.60" height="86.90" fill="#00008f"/>
<rect x="166" y="422.8" width="90" height="86.90" fill="#000098"/>
<linearGradient id="f1" x1="0" y1="0" x2="1" y2="0"><stop offset="0.0000" stop-color="#00008f"/><stop offset="0.0521" stop-color="#0000e0"/><stop offset="0.1285" stop-color="#0050ff"/><stop offset="0.2049" stop-color="#00e0ff"/><stop offset="0.3021" stop-color="#a0ff60"/><stop offset="0.3611" stop-color="#ffff00"/><stop offset="0.4201" stop-color="#ff9000"/><stop offset="0.4757" stop-color="#ff1000"/><stop offset="0.5313" stop-color="#c00000"/><stop offset="0.5660" stop-color="#900000"/><stop offset="0.6007" stop-color="#c80000"/><stop offset="0.6319" stop-color="#ff1000"/><stop offset="0.6701" stop-color="#ff9000"/><stop offset="0.7083" stop-color="#ffff00"/><stop offset="0.7465" stop-color="#a0ff60"/><stop offset="0.8056" stop-color="#00e0ff"/><stop offset="0.8819" stop-color="#0040ff"/><stop offset="0.9583" stop-color="#0000c0"/><stop offset="1.0000" stop-color="#000098"/></linearGradient>
<rect x="138.50" y="422.8" width="28.80" height="86.90" fill="url(#f1)"/>
<linearGradient id="f2" x1="0" y1="0" x2="1" y2="0"><stop offset="0.0000" stop-color="#000098"/><stop offset="0.0516" stop-color="#0000e0"/><stop offset="0.1389" stop-color="#0050ff"/><stop offset="0.2063" stop-color="#00e0ff"/><stop offset="0.2937" stop-color="#a0ff60"/><stop offset="0.3611" stop-color="#ffff00"/><stop offset="0.4246" stop-color="#ff9000"/><stop offset="0.4921" stop-color="#ff2000"/><stop offset="0.5357" stop-color="#ff5000"/><stop offset="0.5595" stop-color="#ffa800"/><stop offset="0.5833" stop-color="#ff5000"/><stop offset="0.6111" stop-color="#ff3000"/><stop offset="0.6468" stop-color="#ff9000"/><stop offset="0.6905" stop-color="#ffff00"/><stop offset="0.7421" stop-color="#80ff80"/><stop offset="0.8016" stop-color="#00e0ff"/><stop offset="0.8889" stop-color="#0040ff"/><stop offset="0.9563" stop-color="#0000c0"/><stop offset="1.0000" stop-color="#000098"/></linearGradient>
<rect x="182.60" y="422.8" width="25.20" height="86.90" fill="url(#f2)"/>
<linearGradient id="f3" x1="0" y1="0" x2="1" y2="0"><stop offset="0.0000" stop-color="#00008f"/><stop offset="0.0800" stop-color="#0000c0"/><stop offset="0.2311" stop-color="#0010ff"/><stop offset="0.3467" stop-color="#0070ff"/><stop offset="0.4133" stop-color="#00a8ff"/><stop offset="0.4800" stop-color="#0070ff"/><stop offset="0.5778" stop-color="#0010ff"/><stop offset="0.7778" stop-color="#0000c0"/><stop offset="1.0000" stop-color="#00008f"/></linearGradient>
<rect x="256.50" y="422.8" width="22.50" height="86.90" fill="url(#f3)"/>
<rect x="137.60" y="422.70" width="30.40" height="87.20" fill="none" stroke="#ff0000" stroke-width="1.25" stroke-dasharray="4.2 3.3"/>
<rect x="182.00" y="422.70" width="26.30" height="87.20" fill="none" stroke="#ff0000" stroke-width="1.25" stroke-dasharray="4.2 3.3"/>
<rect x="255.00" y="422.70" width="26.30" height="87.20" fill="none" stroke="#ff0000" stroke-width="1.25" stroke-dasharray="4.2 3.3"/>
<rect x="310.3" y="422.8" width="10.90" height="87.20" fill="url(#jet)" stroke="#555" stroke-width="0.4"/>
<text transform="rotate(0.03 323.6 433.8)" x="323.60" y="433.84" font-size="7.2" font-family="Liberation Sans, sans-serif" text-anchor="start" fill="#222"  stroke="#222" stroke-width="0.22">0.8</text>
<line x1="319.6" y1="431.24" x2="321.2" y2="431.24" stroke="#333" stroke-width="0.4"/>
<text transform="rotate(0.03 323.6 453.7)" x="323.60" y="453.68" font-size="7.2" font-family="Liberation Sans, sans-serif" text-anchor="start" fill="#222"  stroke="#222" stroke-width="0.22">0.6</text>
<line x1="319.6" y1="451.08" x2="321.2" y2="451.08" stroke="#333" stroke-width="0.4"/>
<text transform="rotate(0.03 323.6 473.5)" x="323.60" y="473.52" font-size="7.2" font-family="Liberation Sans, sans-serif" text-anchor="start" fill="#222"  stroke="#222" stroke-width="0.22">0.4</text>
<line x1="319.6" y1="470.92" x2="321.2" y2="470.92" stroke="#333" stroke-width="0.4"/>
<text transform="rotate(0.03 323.6 493.4)" x="323.60" y="493.36" font-size="7.2" font-family="Liberation Sans, sans-serif" text-anchor="start" fill="#222"  stroke="#222" stroke-width="0.22">0.2</text>
<line x1="319.6" y1="490.76" x2="321.2" y2="490.76" stroke="#333" stroke-width="0.4"/>
<text transform="rotate(0.03 323.6 513.2)" x="323.60" y="513.20" font-size="7.2" font-family="Liberation Sans, sans-serif" text-anchor="start" fill="#222"  stroke="#222" stroke-width="0.22">0</text>
<line x1="319.6" y1="510.60" x2="321.2" y2="510.60" stroke="#333" stroke-width="0.4"/>
<text transform="rotate(0.03 53.3 520.8)" x="53.30" y="520.80" font-size="7.2" font-family="Liberation Sans, sans-serif" text-anchor="middle" fill="#222"  stroke="#222" stroke-width="0.22">0</text>
<text transform="rotate(0.03 125.3 520.8)" x="125.30" y="520.80" font-size="7.2" font-family="Liberation Sans, sans-serif" text-anchor="middle" fill="#222"  stroke="#222" stroke-width="0.22">1</text>
<text transform="rotate(0.03 197.3 520.8)" x="197.30" y="520.80" font-size="7.2" font-family="Liberation Sans, sans-serif" text-anchor="middle" fill="#222"  stroke="#222" stroke-width="0.22">2</text>
<text transform="rotate(0.03 269.3 520.8)" x="269.30" y="520.80" font-size="7.2" font-family="Liberation Sans, sans-serif" text-anchor="middle" fill="#222"  stroke="#222" stroke-width="0.22">3</text>
<text transform="rotate(0.03 49.9 508.0)" x="49.90" y="508.00" font-size="7.2" font-family="Liberation Sans, sans-serif" text-anchor="end" fill="#222"  stroke="#222" stroke-width="0.22">0</text>
<text transform="rotate(0.03 49.9 486.3)" x="49.90" y="486.33" font-size="7.2" font-family="Liberation Sans, sans-serif" text-anchor="end" fill="#222"  stroke="#222" stroke-width="0.22">100</text>
<text transform="rotate(0.03 49.9 464.7)" x="49.90" y="464.66" font-size="7.2" font-family="Liberation Sans, sans-serif" text-anchor="end" fill="#222"  stroke="#222" stroke-width="0.22">200</text>
<text transform="rotate(0.03 49.9 443.0)" x="49.90" y="442.99" font-size="7.2" font-family="Liberation Sans, sans-serif" text-anchor="end" fill="#222"  stroke="#222" stroke-width="0.22">300</text>
<text transform="translate(34.3,466.3) rotate(-89.97)" font-size="8.2" font-family="Liberation Sans, sans-serif" text-anchor="middle" fill="#222">circumferential angle(deg)</text>
<text transform="rotate(0.03 178.4 532.0)" x="178.40" y="532.00" font-size="8.2" font-family="Liberation Sans, sans-serif" text-anchor="middle" fill="#222"  stroke="#222" stroke-width="0.22">Time(s)</text>
<text transform="rotate(0.03 300 300)" x="285" y="532.2" font-size="7.6" font-family="Liberation Sans, sans-serif" fill="#222">×10<tspan dy="-3.0" font-size="5.4">-4</tspan></text>
<text transform="rotate(0.03 75.0 521.6)" x="75.00" y="521.60" font-size="7.45" font-family="Liberation Sans, sans-serif" text-anchor="start" fill="#111"  stroke="#111" stroke-width="0.22">Incident wave</text>
<text transform="rotate(0.03 131.7 522.6)" x="131.70" y="522.60" font-size="7.45" font-family="Liberation Sans, sans-serif" text-anchor="start" fill="#111"  stroke="#111" stroke-width="0.22">The front edge</text>
<text transform="rotate(0.03 206.0 520.9)" x="206.00" y="520.90" font-size="7.4" font-family="Liberation Sans, sans-serif" text-anchor="start" fill="#111"  stroke="#111" stroke-width="0.22">The back edge</text>
<line x1="108.30" y1="515.50" x2="131.00" y2="502.05" stroke="#ff1010" stroke-width="1.3"/>
<polygon points="135.30,499.50 131.36,504.62 128.91,500.49" fill="#ff1010"/>
<line x1="156.90" y1="516.40" x2="176.48" y2="505.01" stroke="#ff1010" stroke-width="1.3"/>
<polygon points="180.80,502.50 176.82,507.59 174.41,503.44" fill="#ff1010"/>
<line x1="228.10" y1="513.90" x2="250.16" y2="501.28" stroke="#ff1010" stroke-width="1.3"/>
<polygon points="254.50,498.80 250.48,503.86 248.10,499.70" fill="#ff1010"/>
<text transform="rotate(0.03 178.8 546.0)" x="178.80" y="546.00" font-size="9.0" font-family="Liberation Serif, serif" text-anchor="middle" fill="#111" font-weight="bold" stroke="#111" stroke-width="0.18">(f)</text>
</svg>
</body></html>
